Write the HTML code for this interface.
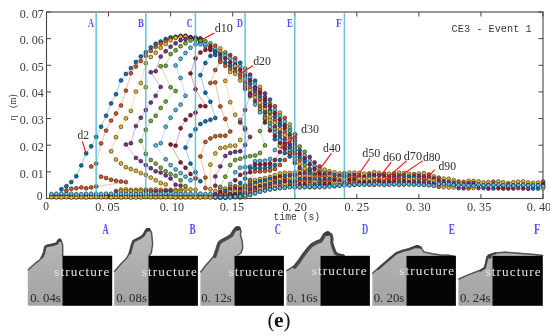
<!DOCTYPE html>
<html><head><meta charset="utf-8"><title>CE3 - Event 1</title>
<style>html,body{margin:0;padding:0;background:#fff;}body{width:550px;height:335px;overflow:hidden;}svg{display:block;}</style>
</head><body>
<svg width="550" height="335" viewBox="0 0 550 335">
<rect width="550" height="335" fill="#fff"/>
<rect x="46.5" y="12.0" width="496.5" height="186.5" fill="none" stroke="#444" stroke-width="1.1"/>
<path d="M46.50 198.5v-4.5M46.50 12.0v4.5M108.56 198.5v-4.5M108.56 12.0v4.5M170.62 198.5v-4.5M170.62 12.0v4.5M232.69 198.5v-4.5M232.69 12.0v4.5M294.75 198.5v-4.5M294.75 12.0v4.5M356.81 198.5v-4.5M356.81 12.0v4.5M418.88 198.5v-4.5M418.88 12.0v4.5M480.94 198.5v-4.5M480.94 12.0v4.5M543.00 198.5v-4.5M543.00 12.0v4.5M46.5 198.50h4.5M543.0 198.50h-4.5M46.5 171.86h4.5M543.0 171.86h-4.5M46.5 145.21h4.5M543.0 145.21h-4.5M46.5 118.57h4.5M543.0 118.57h-4.5M46.5 91.93h4.5M543.0 91.93h-4.5M46.5 65.29h4.5M543.0 65.29h-4.5M46.5 38.64h4.5M543.0 38.64h-4.5M46.5 12.00h4.5M543.0 12.00h-4.5" stroke="#444" stroke-width="1" fill="none"/>
<polyline points="61.4,189.2 66.4,186.2 71.3,182.1 76.3,176.2 81.3,165.4 86.2,153.4 91.2,146.3 96.2,136.9 101.1,126.7 106.1,115.7 111.1,103.4 116.0,94.3 121.0,80.4 125.9,74.0 130.9,68.1 135.9,62.0 140.8,56.4 145.8,52.1 150.8,47.4 155.7,43.7 160.7,41.5 165.7,39.0 170.6,37.4 175.6,36.8 180.6,35.8 185.5,35.8 190.5,37.0 195.5,37.4 200.4,38.7" fill="none" stroke="#0072BD" stroke-width="0.7" stroke-opacity="0.55"/>
<polyline points="66.4,190.5 71.3,188.7 76.3,188.3 81.3,187.4 86.2,188.3 91.2,187.4 96.2,186.5 125.9,182.1 121.0,181.5 116.0,180.8 111.1,179.7 106.1,178.0 101.1,176.7 91.2,166.5 96.2,163.6 101.1,143.4 106.1,130.6 111.1,120.6 116.0,113.5 121.0,105.5 125.9,90.6 130.9,73.3 135.9,66.5 140.8,61.0 145.8,55.7 150.8,50.9 155.7,46.8 160.7,43.6 165.7,41.0 170.6,38.6 175.6,37.2 180.6,36.4 185.5,36.4 190.5,37.6 195.5,38.4 200.4,40.0" fill="none" stroke="#D95319" stroke-width="0.7" stroke-opacity="0.55"/>
<polyline points="165.7,184.4 160.7,183.0 155.7,180.3 150.8,177.6 145.8,174.9 140.8,173.1 135.9,170.8 130.9,169.0 125.9,167.2 121.0,163.5 116.0,159.5 111.1,151.2 116.0,137.2 121.0,126.7 125.9,118.4 130.9,110.9 135.9,91.6 145.8,87.2 140.8,83.1 145.8,63.3 150.8,57.0 155.7,52.7 160.7,47.8 165.7,44.0 170.6,40.3 175.6,37.8 180.6,36.8 185.5,36.6 190.5,38.2 195.5,39.0 200.4,41.0" fill="none" stroke="#EDB120" stroke-width="0.7" stroke-opacity="0.55"/>
<polyline points="180.6,185.6 175.6,184.8 170.6,178.5 165.7,175.4 160.7,172.6 155.7,171.3 150.8,168.3 145.8,165.1 140.8,161.1 135.9,157.9 125.9,144.5 130.9,143.2 135.9,126.1 140.8,117.8 145.8,110.0 150.8,102.5 155.7,95.8 160.7,86.9 150.8,72.2 155.7,71.2 160.7,56.6 165.7,51.2 170.6,46.8 175.6,43.3 180.6,40.3 185.5,39.3 190.5,37.6 195.5,39.0 200.4,41.5" fill="none" stroke="#7E2F8E" stroke-width="0.7" stroke-opacity="0.55"/>
<polyline points="185.5,186.2 180.6,180.3 175.6,175.8 170.6,174.0 165.7,171.3 160.7,167.7 155.7,163.6 150.8,160.0 145.8,154.0 140.8,140.9 145.8,129.7 150.8,120.9 155.7,115.7 160.7,107.9 165.7,101.5 175.6,91.0 170.6,87.3 160.7,66.3 165.7,65.8 170.6,54.0 175.6,50.3 180.6,46.2 185.5,43.3 190.5,40.5 195.5,39.9 200.4,40.8" fill="none" stroke="#77AC30" stroke-width="0.7" stroke-opacity="0.55"/>
<polyline points="190.5,180.3 185.5,176.7 180.6,173.1 175.6,169.5 170.6,165.1 165.7,159.3 155.7,145.4 160.7,143.2 165.7,126.7 170.6,117.8 175.6,110.0 180.6,104.6 185.5,95.8 180.6,78.0 175.6,65.5 180.6,58.7 185.5,53.0 190.5,47.8 195.5,44.3 200.4,44.3 205.4,44.3" fill="none" stroke="#4DBEEE" stroke-width="0.7" stroke-opacity="0.55"/>
<polyline points="195.5,178.5 190.5,174.0 185.5,167.7 180.6,162.4 170.6,144.5 175.6,145.7 180.6,128.2 185.5,119.8 190.5,115.2 195.5,112.6 200.4,106.0 205.4,106.2 195.5,89.3 190.5,73.4 195.5,58.4 200.4,52.5 205.4,49.9 210.4,48.5" fill="none" stroke="#A2142F" stroke-width="0.7" stroke-opacity="0.55"/>
<polyline points="200.4,181.2 195.5,172.2 190.5,163.6 185.5,147.6 190.5,135.5 195.5,129.3 200.4,124.0 205.4,121.3 210.4,119.8 215.3,118.0 210.4,101.8 205.4,92.8 200.4,75.1 205.4,63.0 210.4,55.9 215.3,52.0" fill="none" stroke="#0072BD" stroke-width="0.7" stroke-opacity="0.55"/>
<polyline points="205.4,188.0 205.4,177.6 200.4,156.5 205.4,141.9 210.4,138.4 215.3,136.3 220.3,135.7 225.3,135.7 230.2,131.5 225.3,119.0 220.3,106.4 215.3,82.4 210.4,83.0 215.3,70.0 220.3,62.0" fill="none" stroke="#D95319" stroke-width="0.7" stroke-opacity="0.55"/>
<polyline points="210.4,189.2 210.4,164.7 215.3,153.4 220.3,148.0 225.3,147.5 230.2,145.7 235.2,145.7 240.2,140.0 245.1,128.0 240.2,120.0 235.2,114.8 230.2,102.2 225.3,80.9 230.2,72.0 235.2,66.0" fill="none" stroke="#EDB120" stroke-width="0.7" stroke-opacity="0.55"/>
<polyline points="215.3,185.8 215.3,176.4 220.3,166.4 225.3,155.9 230.2,153.0 235.2,151.8 240.2,151.3 245.1,145.0 250.1,137.0 245.1,129.4 240.2,122.5 245.1,110.0 250.1,95.0 255.1,88.0" fill="none" stroke="#7E2F8E" stroke-width="0.7" stroke-opacity="0.55"/>
<polyline points="220.3,186.9 225.3,176.7 230.2,165.1 235.2,160.0 240.2,158.8 245.1,157.0 250.1,156.1 255.1,155.5 260.0,153.0 265.0,145.4 260.0,131.1 265.0,118.0 270.0,112.0" fill="none" stroke="#77AC30" stroke-width="0.7" stroke-opacity="0.55"/>
<polyline points="230.2,183.9 235.2,172.2 240.2,167.7 245.1,167.2 250.1,166.5 255.1,161.2 260.0,161.0 265.0,160.8 270.0,159.0 274.9,150.0 279.9,140.0" fill="none" stroke="#4DBEEE" stroke-width="0.7" stroke-opacity="0.55"/>
<polyline points="235.2,180.3 240.2,174.9 245.1,173.1 250.1,172.2 255.1,164.5 260.0,164.5 265.0,164.5 270.0,163.5 274.9,160.0 279.9,152.0 284.8,144.0" fill="none" stroke="#A2142F" stroke-width="0.7" stroke-opacity="0.55"/>
<polyline points="240.2,183.0 245.1,178.5 250.1,168.1 255.1,168.1 260.0,168.1 265.0,168.1 270.0,167.0 274.9,165.0 279.9,160.0 284.8,153.0 289.8,147.0" fill="none" stroke="#0072BD" stroke-width="0.7" stroke-opacity="0.55"/>
<polyline points="245.1,186.0 250.1,180.0 255.1,171.5 260.0,171.5 265.0,171.0 270.0,170.5 274.9,169.0 279.9,165.0 284.8,160.0 289.8,153.0 294.8,150.0" fill="none" stroke="#D95319" stroke-width="0.7" stroke-opacity="0.55"/>
<g stroke="#151515" stroke-width="0.55">
<circle cx="51.5" cy="195.5" r="1.95" fill="#A2142F"/>
<circle cx="51.5" cy="197.2" r="1.95" fill="#EDB120"/>
<circle cx="51.5" cy="194.0" r="1.95" fill="#4DBEEE"/>
<circle cx="56.4" cy="195.3" r="1.95" fill="#A2142F"/>
<circle cx="56.4" cy="197.4" r="1.95" fill="#EDB120"/>
<circle cx="56.4" cy="193.8" r="1.95" fill="#4DBEEE"/>
<circle cx="61.4" cy="195.3" r="1.95" fill="#A2142F"/>
<circle cx="61.4" cy="197.4" r="1.95" fill="#EDB120"/>
<circle cx="61.4" cy="193.6" r="1.95" fill="#4DBEEE"/>
<circle cx="66.4" cy="195.6" r="1.95" fill="#A2142F"/>
<circle cx="66.4" cy="197.1" r="1.95" fill="#EDB120"/>
<circle cx="66.4" cy="193.7" r="1.95" fill="#4DBEEE"/>
<circle cx="71.3" cy="195.6" r="1.95" fill="#A2142F"/>
<circle cx="71.3" cy="197.6" r="1.95" fill="#EDB120"/>
<circle cx="71.3" cy="193.7" r="1.95" fill="#4DBEEE"/>
<circle cx="76.3" cy="195.4" r="1.95" fill="#A2142F"/>
<circle cx="76.3" cy="197.5" r="1.95" fill="#EDB120"/>
<circle cx="76.3" cy="194.2" r="1.95" fill="#4DBEEE"/>
<circle cx="81.3" cy="195.6" r="1.95" fill="#A2142F"/>
<circle cx="81.3" cy="197.3" r="1.95" fill="#EDB120"/>
<circle cx="81.3" cy="194.2" r="1.95" fill="#4DBEEE"/>
<circle cx="86.2" cy="195.3" r="1.95" fill="#A2142F"/>
<circle cx="86.2" cy="197.6" r="1.95" fill="#EDB120"/>
<circle cx="86.2" cy="193.8" r="1.95" fill="#4DBEEE"/>
<circle cx="91.2" cy="195.4" r="1.95" fill="#A2142F"/>
<circle cx="91.2" cy="197.2" r="1.95" fill="#EDB120"/>
<circle cx="91.2" cy="193.8" r="1.95" fill="#4DBEEE"/>
<circle cx="96.2" cy="195.8" r="1.95" fill="#A2142F"/>
<circle cx="96.2" cy="197.2" r="1.95" fill="#EDB120"/>
<circle cx="96.2" cy="193.9" r="1.95" fill="#4DBEEE"/>
<circle cx="101.1" cy="195.7" r="1.95" fill="#A2142F"/>
<circle cx="101.1" cy="197.3" r="1.95" fill="#EDB120"/>
<circle cx="101.1" cy="193.9" r="1.95" fill="#4DBEEE"/>
<circle cx="106.1" cy="195.3" r="1.95" fill="#A2142F"/>
<circle cx="106.1" cy="197.1" r="1.95" fill="#EDB120"/>
<circle cx="106.1" cy="193.7" r="1.95" fill="#4DBEEE"/>
<circle cx="111.1" cy="195.7" r="1.95" fill="#A2142F"/>
<circle cx="111.1" cy="197.4" r="1.95" fill="#EDB120"/>
<circle cx="111.1" cy="193.8" r="1.95" fill="#4DBEEE"/>
<circle cx="116.0" cy="191.1" r="1.95" fill="#7E2F8E"/>
<circle cx="116.0" cy="195.4" r="1.95" fill="#A2142F"/>
<circle cx="116.0" cy="197.2" r="1.95" fill="#EDB120"/>
<circle cx="116.0" cy="194.1" r="1.95" fill="#4DBEEE"/>
<circle cx="121.0" cy="189.6" r="1.95" fill="#EDB120"/>
<circle cx="121.0" cy="191.2" r="1.95" fill="#EDB120"/>
<circle cx="121.0" cy="195.8" r="1.95" fill="#A2142F"/>
<circle cx="121.0" cy="197.5" r="1.95" fill="#EDB120"/>
<circle cx="121.0" cy="193.8" r="1.95" fill="#4DBEEE"/>
<circle cx="125.9" cy="189.4" r="1.95" fill="#EDB120"/>
<circle cx="125.9" cy="191.2" r="1.95" fill="#EDB120"/>
<circle cx="125.9" cy="195.8" r="1.95" fill="#A2142F"/>
<circle cx="125.9" cy="197.2" r="1.95" fill="#EDB120"/>
<circle cx="125.9" cy="193.9" r="1.95" fill="#4DBEEE"/>
<circle cx="130.9" cy="189.9" r="1.95" fill="#EDB120"/>
<circle cx="130.9" cy="190.9" r="1.95" fill="#EDB120"/>
<circle cx="130.9" cy="195.6" r="1.95" fill="#A2142F"/>
<circle cx="130.9" cy="197.6" r="1.95" fill="#EDB120"/>
<circle cx="130.9" cy="194.1" r="1.95" fill="#4DBEEE"/>
<circle cx="135.9" cy="189.7" r="1.95" fill="#EDB120"/>
<circle cx="135.9" cy="191.3" r="1.95" fill="#EDB120"/>
<circle cx="135.9" cy="195.6" r="1.95" fill="#A2142F"/>
<circle cx="135.9" cy="197.4" r="1.95" fill="#EDB120"/>
<circle cx="135.9" cy="194.1" r="1.95" fill="#4DBEEE"/>
<circle cx="140.8" cy="189.6" r="1.95" fill="#EDB120"/>
<circle cx="140.8" cy="191.3" r="1.95" fill="#EDB120"/>
<circle cx="140.8" cy="195.3" r="1.95" fill="#A2142F"/>
<circle cx="140.8" cy="197.5" r="1.95" fill="#EDB120"/>
<circle cx="140.8" cy="194.0" r="1.95" fill="#4DBEEE"/>
<circle cx="145.8" cy="189.5" r="1.95" fill="#EDB120"/>
<circle cx="145.8" cy="191.1" r="1.95" fill="#7E2F8E"/>
<circle cx="145.8" cy="195.7" r="1.95" fill="#A2142F"/>
<circle cx="145.8" cy="197.1" r="1.95" fill="#EDB120"/>
<circle cx="145.8" cy="193.9" r="1.95" fill="#4DBEEE"/>
<circle cx="150.8" cy="189.7" r="1.95" fill="#EDB120"/>
<circle cx="150.8" cy="191.2" r="1.95" fill="#D95319"/>
<circle cx="150.8" cy="195.4" r="1.95" fill="#A2142F"/>
<circle cx="150.8" cy="197.3" r="1.95" fill="#EDB120"/>
<circle cx="150.8" cy="194.0" r="1.95" fill="#4DBEEE"/>
<circle cx="155.7" cy="189.5" r="1.95" fill="#EDB120"/>
<circle cx="155.7" cy="191.4" r="1.95" fill="#7E2F8E"/>
<circle cx="155.7" cy="195.3" r="1.95" fill="#A2142F"/>
<circle cx="155.7" cy="197.4" r="1.95" fill="#EDB120"/>
<circle cx="155.7" cy="193.9" r="1.95" fill="#4DBEEE"/>
<circle cx="160.7" cy="189.8" r="1.95" fill="#EDB120"/>
<circle cx="160.7" cy="191.4" r="1.95" fill="#D95319"/>
<circle cx="160.7" cy="195.5" r="1.95" fill="#A2142F"/>
<circle cx="160.7" cy="197.3" r="1.95" fill="#EDB120"/>
<circle cx="160.7" cy="193.8" r="1.95" fill="#4DBEEE"/>
<circle cx="165.7" cy="189.9" r="1.95" fill="#EDB120"/>
<circle cx="165.7" cy="191.0" r="1.95" fill="#7E2F8E"/>
<circle cx="165.7" cy="195.4" r="1.95" fill="#A2142F"/>
<circle cx="165.7" cy="197.2" r="1.95" fill="#EDB120"/>
<circle cx="165.7" cy="193.7" r="1.95" fill="#4DBEEE"/>
<circle cx="170.6" cy="189.8" r="1.95" fill="#EDB120"/>
<circle cx="170.6" cy="191.0" r="1.95" fill="#7E2F8E"/>
<circle cx="170.6" cy="195.5" r="1.95" fill="#A2142F"/>
<circle cx="170.6" cy="197.2" r="1.95" fill="#EDB120"/>
<circle cx="170.6" cy="193.9" r="1.95" fill="#4DBEEE"/>
<circle cx="175.6" cy="189.9" r="1.95" fill="#EDB120"/>
<circle cx="175.6" cy="191.3" r="1.95" fill="#EDB120"/>
<circle cx="175.6" cy="195.6" r="1.95" fill="#A2142F"/>
<circle cx="175.6" cy="197.5" r="1.95" fill="#EDB120"/>
<circle cx="175.6" cy="194.0" r="1.95" fill="#4DBEEE"/>
<circle cx="180.6" cy="189.6" r="1.95" fill="#EDB120"/>
<circle cx="180.6" cy="191.4" r="1.95" fill="#EDB120"/>
<circle cx="180.6" cy="195.9" r="1.95" fill="#A2142F"/>
<circle cx="180.6" cy="197.5" r="1.95" fill="#EDB120"/>
<circle cx="180.6" cy="193.9" r="1.95" fill="#4DBEEE"/>
<circle cx="185.5" cy="189.5" r="1.95" fill="#EDB120"/>
<circle cx="185.5" cy="195.5" r="1.95" fill="#A2142F"/>
<circle cx="185.5" cy="197.4" r="1.95" fill="#EDB120"/>
<circle cx="185.5" cy="193.8" r="1.95" fill="#4DBEEE"/>
<circle cx="190.5" cy="189.4" r="1.95" fill="#EDB120"/>
<circle cx="190.5" cy="195.9" r="1.95" fill="#A2142F"/>
<circle cx="190.5" cy="197.4" r="1.95" fill="#EDB120"/>
<circle cx="190.5" cy="193.7" r="1.95" fill="#4DBEEE"/>
<circle cx="195.5" cy="189.7" r="1.95" fill="#EDB120"/>
<circle cx="195.5" cy="195.4" r="1.95" fill="#A2142F"/>
<circle cx="195.5" cy="197.4" r="1.95" fill="#EDB120"/>
<circle cx="195.5" cy="193.9" r="1.95" fill="#4DBEEE"/>
<circle cx="200.4" cy="195.9" r="1.95" fill="#A2142F"/>
<circle cx="200.4" cy="197.5" r="1.95" fill="#EDB120"/>
<circle cx="200.4" cy="193.6" r="1.95" fill="#4DBEEE"/>
<circle cx="205.4" cy="195.4" r="1.95" fill="#A2142F"/>
<circle cx="205.4" cy="197.3" r="1.95" fill="#EDB120"/>
<circle cx="205.4" cy="194.0" r="1.95" fill="#4DBEEE"/>
<circle cx="210.4" cy="195.9" r="1.95" fill="#A2142F"/>
<circle cx="210.4" cy="197.5" r="1.95" fill="#EDB120"/>
<circle cx="210.4" cy="193.9" r="1.95" fill="#4DBEEE"/>
<circle cx="215.3" cy="195.4" r="1.95" fill="#A2142F"/>
<circle cx="215.3" cy="197.4" r="1.95" fill="#EDB120"/>
<circle cx="215.3" cy="194.2" r="1.95" fill="#4DBEEE"/>
<circle cx="220.3" cy="195.6" r="1.95" fill="#A2142F"/>
<circle cx="220.3" cy="197.3" r="1.95" fill="#EDB120"/>
<circle cx="220.3" cy="193.7" r="1.95" fill="#4DBEEE"/>
<circle cx="225.3" cy="195.7" r="1.95" fill="#A2142F"/>
<circle cx="225.3" cy="197.5" r="1.95" fill="#EDB120"/>
<circle cx="225.3" cy="193.9" r="1.95" fill="#4DBEEE"/>
<circle cx="230.2" cy="195.7" r="1.95" fill="#A2142F"/>
<circle cx="230.2" cy="197.4" r="1.95" fill="#EDB120"/>
<circle cx="230.2" cy="193.7" r="1.95" fill="#4DBEEE"/>
<circle cx="235.2" cy="195.9" r="1.95" fill="#A2142F"/>
<circle cx="235.2" cy="197.3" r="1.95" fill="#EDB120"/>
<circle cx="235.2" cy="194.0" r="1.95" fill="#4DBEEE"/>
<circle cx="240.2" cy="195.8" r="1.95" fill="#A2142F"/>
<circle cx="240.2" cy="197.6" r="1.95" fill="#EDB120"/>
<circle cx="240.2" cy="193.8" r="1.95" fill="#4DBEEE"/>
<circle cx="245.1" cy="195.7" r="1.95" fill="#A2142F"/>
<circle cx="245.1" cy="197.2" r="1.95" fill="#EDB120"/>
<circle cx="245.1" cy="194.1" r="1.95" fill="#4DBEEE"/>
<circle cx="215.3" cy="191.1" r="1.95" fill="#EDB120"/>
<circle cx="215.3" cy="194.4" r="1.95" fill="#7E2F8E"/>
<circle cx="215.3" cy="197.3" r="1.95" fill="#EDB120"/>
<circle cx="215.3" cy="197.3" r="1.95" fill="#4DBEEE"/>
<circle cx="220.3" cy="189.3" r="1.95" fill="#EDB120"/>
<circle cx="220.3" cy="192.0" r="1.95" fill="#A2142F"/>
<circle cx="220.3" cy="194.7" r="1.95" fill="#D95319"/>
<circle cx="220.3" cy="197.7" r="1.95" fill="#0072BD"/>
<circle cx="220.3" cy="197.4" r="1.95" fill="#4DBEEE"/>
<circle cx="225.3" cy="188.5" r="1.95" fill="#EDB120"/>
<circle cx="225.3" cy="190.9" r="1.95" fill="#0072BD"/>
<circle cx="225.3" cy="194.0" r="1.95" fill="#D95319"/>
<circle cx="225.3" cy="197.6" r="1.95" fill="#7E2F8E"/>
<circle cx="225.3" cy="197.3" r="1.95" fill="#4DBEEE"/>
<circle cx="230.2" cy="186.5" r="1.95" fill="#EDB120"/>
<circle cx="230.2" cy="189.0" r="1.95" fill="#7E2F8E"/>
<circle cx="230.2" cy="191.6" r="1.95" fill="#EDB120"/>
<circle cx="230.2" cy="194.3" r="1.95" fill="#7E2F8E"/>
<circle cx="230.2" cy="196.8" r="1.95" fill="#EDB120"/>
<circle cx="230.2" cy="197.2" r="1.95" fill="#4DBEEE"/>
<circle cx="235.2" cy="186.2" r="1.95" fill="#D95319"/>
<circle cx="235.2" cy="189.0" r="1.95" fill="#7E2F8E"/>
<circle cx="235.2" cy="191.5" r="1.95" fill="#EDB120"/>
<circle cx="235.2" cy="194.1" r="1.95" fill="#A2142F"/>
<circle cx="235.2" cy="196.5" r="1.95" fill="#D95319"/>
<circle cx="235.2" cy="196.8" r="1.95" fill="#4DBEEE"/>
<circle cx="240.2" cy="186.7" r="1.95" fill="#EDB120"/>
<circle cx="240.2" cy="189.0" r="1.95" fill="#A2142F"/>
<circle cx="240.2" cy="191.5" r="1.95" fill="#D95319"/>
<circle cx="240.2" cy="194.2" r="1.95" fill="#0072BD"/>
<circle cx="240.2" cy="196.4" r="1.95" fill="#D95319"/>
<circle cx="240.2" cy="196.4" r="1.95" fill="#4DBEEE"/>
<circle cx="245.1" cy="185.4" r="1.95" fill="#EDB120"/>
<circle cx="245.1" cy="188.3" r="1.95" fill="#7E2F8E"/>
<circle cx="245.1" cy="190.5" r="1.95" fill="#EDB120"/>
<circle cx="245.1" cy="192.9" r="1.95" fill="#A2142F"/>
<circle cx="245.1" cy="196.0" r="1.95" fill="#EDB120"/>
<circle cx="245.1" cy="195.8" r="1.95" fill="#4DBEEE"/>
<circle cx="250.1" cy="182.1" r="1.95" fill="#EDB120"/>
<circle cx="250.1" cy="184.7" r="1.95" fill="#0072BD"/>
<circle cx="250.1" cy="186.9" r="1.95" fill="#D95319"/>
<circle cx="250.1" cy="189.6" r="1.95" fill="#7E2F8E"/>
<circle cx="250.1" cy="192.2" r="1.95" fill="#D95319"/>
<circle cx="250.1" cy="194.9" r="1.95" fill="#A2142F"/>
<circle cx="250.1" cy="194.9" r="1.95" fill="#4DBEEE"/>
<circle cx="255.1" cy="180.1" r="1.95" fill="#EDB120"/>
<circle cx="255.1" cy="182.8" r="1.95" fill="#0072BD"/>
<circle cx="255.1" cy="185.2" r="1.95" fill="#EDB120"/>
<circle cx="255.1" cy="187.9" r="1.95" fill="#7E2F8E"/>
<circle cx="255.1" cy="190.3" r="1.95" fill="#D95319"/>
<circle cx="255.1" cy="193.2" r="1.95" fill="#0072BD"/>
<circle cx="255.1" cy="193.3" r="1.95" fill="#4DBEEE"/>
<circle cx="260.0" cy="179.0" r="1.95" fill="#EDB120"/>
<circle cx="260.0" cy="181.4" r="1.95" fill="#0072BD"/>
<circle cx="260.0" cy="183.7" r="1.95" fill="#EDB120"/>
<circle cx="260.0" cy="186.4" r="1.95" fill="#A2142F"/>
<circle cx="260.0" cy="188.8" r="1.95" fill="#EDB120"/>
<circle cx="260.0" cy="191.6" r="1.95" fill="#0072BD"/>
<circle cx="260.0" cy="191.6" r="1.95" fill="#4DBEEE"/>
<circle cx="265.0" cy="178.1" r="1.95" fill="#EDB120"/>
<circle cx="265.0" cy="180.5" r="1.95" fill="#0072BD"/>
<circle cx="265.0" cy="182.9" r="1.95" fill="#EDB120"/>
<circle cx="265.0" cy="185.5" r="1.95" fill="#0072BD"/>
<circle cx="265.0" cy="187.7" r="1.95" fill="#D95319"/>
<circle cx="265.0" cy="190.4" r="1.95" fill="#A2142F"/>
<circle cx="265.0" cy="190.4" r="1.95" fill="#4DBEEE"/>
<circle cx="270.0" cy="176.8" r="1.95" fill="#EDB120"/>
<circle cx="270.0" cy="179.0" r="1.95" fill="#0072BD"/>
<circle cx="270.0" cy="181.4" r="1.95" fill="#EDB120"/>
<circle cx="270.0" cy="184.0" r="1.95" fill="#0072BD"/>
<circle cx="270.0" cy="186.5" r="1.95" fill="#D95319"/>
<circle cx="270.0" cy="189.2" r="1.95" fill="#77AC30"/>
<circle cx="270.0" cy="189.5" r="1.95" fill="#4DBEEE"/>
<circle cx="274.9" cy="175.3" r="1.95" fill="#EDB120"/>
<circle cx="274.9" cy="178.0" r="1.95" fill="#A2142F"/>
<circle cx="274.9" cy="180.4" r="1.95" fill="#D95319"/>
<circle cx="274.9" cy="183.0" r="1.95" fill="#7E2F8E"/>
<circle cx="274.9" cy="185.8" r="1.95" fill="#EDB120"/>
<circle cx="274.9" cy="188.6" r="1.95" fill="#77AC30"/>
<circle cx="274.9" cy="188.6" r="1.95" fill="#4DBEEE"/>
<circle cx="279.9" cy="173.5" r="1.95" fill="#EDB120"/>
<circle cx="279.9" cy="176.6" r="1.95" fill="#A2142F"/>
<circle cx="279.9" cy="179.1" r="1.95" fill="#EDB120"/>
<circle cx="279.9" cy="182.1" r="1.95" fill="#0072BD"/>
<circle cx="279.9" cy="185.0" r="1.95" fill="#D95319"/>
<circle cx="279.9" cy="188.0" r="1.95" fill="#A2142F"/>
<circle cx="279.9" cy="188.0" r="1.95" fill="#4DBEEE"/>
<circle cx="284.8" cy="172.8" r="1.95" fill="#EDB120"/>
<circle cx="284.8" cy="176.0" r="1.95" fill="#0072BD"/>
<circle cx="284.8" cy="179.1" r="1.95" fill="#D95319"/>
<circle cx="284.8" cy="181.4" r="1.95" fill="#A2142F"/>
<circle cx="284.8" cy="184.8" r="1.95" fill="#EDB120"/>
<circle cx="284.8" cy="187.6" r="1.95" fill="#0072BD"/>
<circle cx="284.8" cy="187.7" r="1.95" fill="#4DBEEE"/>
<circle cx="289.8" cy="172.9" r="1.95" fill="#EDB120"/>
<circle cx="289.8" cy="175.4" r="1.95" fill="#7E2F8E"/>
<circle cx="289.8" cy="178.8" r="1.95" fill="#EDB120"/>
<circle cx="289.8" cy="181.6" r="1.95" fill="#0072BD"/>
<circle cx="289.8" cy="184.3" r="1.95" fill="#D95319"/>
<circle cx="289.8" cy="186.8" r="1.95" fill="#A2142F"/>
<circle cx="289.8" cy="187.2" r="1.95" fill="#4DBEEE"/>
<circle cx="294.8" cy="172.4" r="1.95" fill="#EDB120"/>
<circle cx="294.8" cy="175.2" r="1.95" fill="#7E2F8E"/>
<circle cx="294.8" cy="178.2" r="1.95" fill="#EDB120"/>
<circle cx="294.8" cy="181.4" r="1.95" fill="#A2142F"/>
<circle cx="294.8" cy="183.9" r="1.95" fill="#D95319"/>
<circle cx="294.8" cy="187.0" r="1.95" fill="#0072BD"/>
<circle cx="294.8" cy="187.2" r="1.95" fill="#4DBEEE"/>
<circle cx="299.7" cy="170.5" r="1.95" fill="#EDB120"/>
<circle cx="299.7" cy="173.8" r="1.95" fill="#A2142F"/>
<circle cx="299.7" cy="176.1" r="1.95" fill="#EDB120"/>
<circle cx="299.7" cy="179.1" r="1.95" fill="#0072BD"/>
<circle cx="299.7" cy="181.3" r="1.95" fill="#D95319"/>
<circle cx="299.7" cy="184.6" r="1.95" fill="#A2142F"/>
<circle cx="299.7" cy="187.3" r="1.95" fill="#EDB120"/>
<circle cx="299.7" cy="187.1" r="1.95" fill="#4DBEEE"/>
<circle cx="304.7" cy="170.4" r="1.95" fill="#EDB120"/>
<circle cx="304.7" cy="173.2" r="1.95" fill="#7E2F8E"/>
<circle cx="304.7" cy="176.2" r="1.95" fill="#EDB120"/>
<circle cx="304.7" cy="178.8" r="1.95" fill="#7E2F8E"/>
<circle cx="304.7" cy="181.2" r="1.95" fill="#D95319"/>
<circle cx="304.7" cy="184.5" r="1.95" fill="#A2142F"/>
<circle cx="304.7" cy="187.0" r="1.95" fill="#D95319"/>
<circle cx="304.7" cy="186.9" r="1.95" fill="#4DBEEE"/>
<circle cx="309.7" cy="171.1" r="1.95" fill="#D95319"/>
<circle cx="309.7" cy="173.6" r="1.95" fill="#0072BD"/>
<circle cx="309.7" cy="176.5" r="1.95" fill="#EDB120"/>
<circle cx="309.7" cy="179.0" r="1.95" fill="#7E2F8E"/>
<circle cx="309.7" cy="181.7" r="1.95" fill="#D95319"/>
<circle cx="309.7" cy="184.5" r="1.95" fill="#77AC30"/>
<circle cx="309.7" cy="187.2" r="1.95" fill="#D95319"/>
<circle cx="309.7" cy="186.7" r="1.95" fill="#4DBEEE"/>
<circle cx="314.6" cy="172.3" r="1.95" fill="#EDB120"/>
<circle cx="314.6" cy="174.7" r="1.95" fill="#0072BD"/>
<circle cx="314.6" cy="176.9" r="1.95" fill="#EDB120"/>
<circle cx="314.6" cy="179.4" r="1.95" fill="#0072BD"/>
<circle cx="314.6" cy="181.8" r="1.95" fill="#EDB120"/>
<circle cx="314.6" cy="184.5" r="1.95" fill="#0072BD"/>
<circle cx="314.6" cy="187.2" r="1.95" fill="#EDB120"/>
<circle cx="314.6" cy="187.0" r="1.95" fill="#4DBEEE"/>
<circle cx="319.6" cy="171.8" r="1.95" fill="#D95319"/>
<circle cx="319.6" cy="174.3" r="1.95" fill="#A2142F"/>
<circle cx="319.6" cy="176.8" r="1.95" fill="#D95319"/>
<circle cx="319.6" cy="179.8" r="1.95" fill="#0072BD"/>
<circle cx="319.6" cy="182.0" r="1.95" fill="#D95319"/>
<circle cx="319.6" cy="184.2" r="1.95" fill="#0072BD"/>
<circle cx="319.6" cy="187.0" r="1.95" fill="#EDB120"/>
<circle cx="319.6" cy="187.1" r="1.95" fill="#4DBEEE"/>
<circle cx="324.6" cy="171.6" r="1.95" fill="#EDB120"/>
<circle cx="324.6" cy="174.3" r="1.95" fill="#7E2F8E"/>
<circle cx="324.6" cy="176.4" r="1.95" fill="#D95319"/>
<circle cx="324.6" cy="179.4" r="1.95" fill="#7E2F8E"/>
<circle cx="324.6" cy="181.6" r="1.95" fill="#D95319"/>
<circle cx="324.6" cy="184.3" r="1.95" fill="#A2142F"/>
<circle cx="324.6" cy="186.9" r="1.95" fill="#EDB120"/>
<circle cx="324.6" cy="187.0" r="1.95" fill="#4DBEEE"/>
<circle cx="329.5" cy="171.3" r="1.95" fill="#EDB120"/>
<circle cx="329.5" cy="173.7" r="1.95" fill="#7E2F8E"/>
<circle cx="329.5" cy="176.4" r="1.95" fill="#EDB120"/>
<circle cx="329.5" cy="179.0" r="1.95" fill="#0072BD"/>
<circle cx="329.5" cy="181.3" r="1.95" fill="#D95319"/>
<circle cx="329.5" cy="184.1" r="1.95" fill="#A2142F"/>
<circle cx="329.5" cy="186.1" r="1.95" fill="#EDB120"/>
<circle cx="329.5" cy="186.5" r="1.95" fill="#4DBEEE"/>
<circle cx="334.5" cy="172.4" r="1.95" fill="#EDB120"/>
<circle cx="334.5" cy="175.0" r="1.95" fill="#0072BD"/>
<circle cx="334.5" cy="178.0" r="1.95" fill="#D95319"/>
<circle cx="334.5" cy="180.3" r="1.95" fill="#A2142F"/>
<circle cx="334.5" cy="183.2" r="1.95" fill="#EDB120"/>
<circle cx="334.5" cy="186.2" r="1.95" fill="#0072BD"/>
<circle cx="334.5" cy="185.7" r="1.95" fill="#4DBEEE"/>
<circle cx="339.5" cy="173.4" r="1.95" fill="#EDB120"/>
<circle cx="339.5" cy="175.7" r="1.95" fill="#7E2F8E"/>
<circle cx="339.5" cy="178.1" r="1.95" fill="#EDB120"/>
<circle cx="339.5" cy="180.7" r="1.95" fill="#7E2F8E"/>
<circle cx="339.5" cy="183.1" r="1.95" fill="#EDB120"/>
<circle cx="339.5" cy="185.4" r="1.95" fill="#0072BD"/>
<circle cx="339.5" cy="185.8" r="1.95" fill="#4DBEEE"/>
<circle cx="344.4" cy="173.2" r="1.95" fill="#D95319"/>
<circle cx="344.4" cy="176.2" r="1.95" fill="#0072BD"/>
<circle cx="344.4" cy="179.5" r="1.95" fill="#EDB120"/>
<circle cx="344.4" cy="182.6" r="1.95" fill="#7E2F8E"/>
<circle cx="344.4" cy="185.1" r="1.95" fill="#D95319"/>
<circle cx="344.4" cy="185.2" r="1.95" fill="#4DBEEE"/>
<circle cx="349.4" cy="172.6" r="1.95" fill="#EDB120"/>
<circle cx="349.4" cy="175.3" r="1.95" fill="#0072BD"/>
<circle cx="349.4" cy="177.7" r="1.95" fill="#D95319"/>
<circle cx="349.4" cy="180.3" r="1.95" fill="#A2142F"/>
<circle cx="349.4" cy="182.9" r="1.95" fill="#D95319"/>
<circle cx="349.4" cy="184.9" r="1.95" fill="#77AC30"/>
<circle cx="349.4" cy="185.4" r="1.95" fill="#4DBEEE"/>
<circle cx="354.4" cy="172.6" r="1.95" fill="#EDB120"/>
<circle cx="354.4" cy="175.0" r="1.95" fill="#7E2F8E"/>
<circle cx="354.4" cy="177.6" r="1.95" fill="#D95319"/>
<circle cx="354.4" cy="179.8" r="1.95" fill="#A2142F"/>
<circle cx="354.4" cy="182.2" r="1.95" fill="#D95319"/>
<circle cx="354.4" cy="184.9" r="1.95" fill="#77AC30"/>
<circle cx="354.4" cy="184.7" r="1.95" fill="#4DBEEE"/>
<circle cx="359.3" cy="172.9" r="1.95" fill="#EDB120"/>
<circle cx="359.3" cy="176.0" r="1.95" fill="#7E2F8E"/>
<circle cx="359.3" cy="178.8" r="1.95" fill="#EDB120"/>
<circle cx="359.3" cy="182.1" r="1.95" fill="#A2142F"/>
<circle cx="359.3" cy="184.6" r="1.95" fill="#D95319"/>
<circle cx="359.3" cy="184.5" r="1.95" fill="#4DBEEE"/>
<circle cx="364.3" cy="173.7" r="1.95" fill="#EDB120"/>
<circle cx="364.3" cy="176.7" r="1.95" fill="#A2142F"/>
<circle cx="364.3" cy="179.0" r="1.95" fill="#EDB120"/>
<circle cx="364.3" cy="181.9" r="1.95" fill="#A2142F"/>
<circle cx="364.3" cy="184.4" r="1.95" fill="#D95319"/>
<circle cx="364.3" cy="184.6" r="1.95" fill="#4DBEEE"/>
<circle cx="369.3" cy="173.4" r="1.95" fill="#D95319"/>
<circle cx="369.3" cy="176.0" r="1.95" fill="#0072BD"/>
<circle cx="369.3" cy="178.8" r="1.95" fill="#EDB120"/>
<circle cx="369.3" cy="181.9" r="1.95" fill="#A2142F"/>
<circle cx="369.3" cy="184.6" r="1.95" fill="#D95319"/>
<circle cx="369.3" cy="184.4" r="1.95" fill="#4DBEEE"/>
<circle cx="374.2" cy="172.3" r="1.95" fill="#EDB120"/>
<circle cx="374.2" cy="175.3" r="1.95" fill="#A2142F"/>
<circle cx="374.2" cy="178.5" r="1.95" fill="#EDB120"/>
<circle cx="374.2" cy="181.6" r="1.95" fill="#0072BD"/>
<circle cx="374.2" cy="184.7" r="1.95" fill="#D95319"/>
<circle cx="374.2" cy="184.3" r="1.95" fill="#4DBEEE"/>
<circle cx="379.2" cy="172.9" r="1.95" fill="#EDB120"/>
<circle cx="379.2" cy="175.3" r="1.95" fill="#7E2F8E"/>
<circle cx="379.2" cy="178.8" r="1.95" fill="#EDB120"/>
<circle cx="379.2" cy="181.3" r="1.95" fill="#A2142F"/>
<circle cx="379.2" cy="184.4" r="1.95" fill="#EDB120"/>
<circle cx="379.2" cy="184.3" r="1.95" fill="#4DBEEE"/>
<circle cx="384.2" cy="173.8" r="1.95" fill="#D95319"/>
<circle cx="384.2" cy="176.1" r="1.95" fill="#A2142F"/>
<circle cx="384.2" cy="178.9" r="1.95" fill="#EDB120"/>
<circle cx="384.2" cy="181.8" r="1.95" fill="#0072BD"/>
<circle cx="384.2" cy="184.7" r="1.95" fill="#EDB120"/>
<circle cx="384.2" cy="184.7" r="1.95" fill="#4DBEEE"/>
<circle cx="389.1" cy="173.7" r="1.95" fill="#EDB120"/>
<circle cx="389.1" cy="176.7" r="1.95" fill="#A2142F"/>
<circle cx="389.1" cy="179.1" r="1.95" fill="#D95319"/>
<circle cx="389.1" cy="181.8" r="1.95" fill="#A2142F"/>
<circle cx="389.1" cy="184.4" r="1.95" fill="#D95319"/>
<circle cx="389.1" cy="184.4" r="1.95" fill="#4DBEEE"/>
<circle cx="394.1" cy="173.5" r="1.95" fill="#D95319"/>
<circle cx="394.1" cy="176.3" r="1.95" fill="#7E2F8E"/>
<circle cx="394.1" cy="178.9" r="1.95" fill="#D95319"/>
<circle cx="394.1" cy="181.6" r="1.95" fill="#A2142F"/>
<circle cx="394.1" cy="184.3" r="1.95" fill="#EDB120"/>
<circle cx="394.1" cy="184.3" r="1.95" fill="#4DBEEE"/>
<circle cx="399.1" cy="172.7" r="1.95" fill="#EDB120"/>
<circle cx="399.1" cy="175.6" r="1.95" fill="#7E2F8E"/>
<circle cx="399.1" cy="178.7" r="1.95" fill="#D95319"/>
<circle cx="399.1" cy="181.7" r="1.95" fill="#0072BD"/>
<circle cx="399.1" cy="184.6" r="1.95" fill="#D95319"/>
<circle cx="399.1" cy="184.5" r="1.95" fill="#4DBEEE"/>
<circle cx="404.0" cy="172.9" r="1.95" fill="#EDB120"/>
<circle cx="404.0" cy="175.9" r="1.95" fill="#0072BD"/>
<circle cx="404.0" cy="179.0" r="1.95" fill="#D95319"/>
<circle cx="404.0" cy="181.8" r="1.95" fill="#A2142F"/>
<circle cx="404.0" cy="184.5" r="1.95" fill="#EDB120"/>
<circle cx="404.0" cy="184.2" r="1.95" fill="#4DBEEE"/>
<circle cx="409.0" cy="173.9" r="1.95" fill="#EDB120"/>
<circle cx="409.0" cy="176.6" r="1.95" fill="#0072BD"/>
<circle cx="409.0" cy="179.4" r="1.95" fill="#EDB120"/>
<circle cx="409.0" cy="182.1" r="1.95" fill="#A2142F"/>
<circle cx="409.0" cy="184.3" r="1.95" fill="#EDB120"/>
<circle cx="409.0" cy="184.3" r="1.95" fill="#4DBEEE"/>
<circle cx="414.0" cy="174.3" r="1.95" fill="#D95319"/>
<circle cx="414.0" cy="176.9" r="1.95" fill="#0072BD"/>
<circle cx="414.0" cy="179.0" r="1.95" fill="#EDB120"/>
<circle cx="414.0" cy="181.7" r="1.95" fill="#7E2F8E"/>
<circle cx="414.0" cy="184.3" r="1.95" fill="#EDB120"/>
<circle cx="414.0" cy="184.6" r="1.95" fill="#4DBEEE"/>
<circle cx="418.9" cy="173.6" r="1.95" fill="#EDB120"/>
<circle cx="418.9" cy="176.0" r="1.95" fill="#7E2F8E"/>
<circle cx="418.9" cy="178.8" r="1.95" fill="#D95319"/>
<circle cx="418.9" cy="182.0" r="1.95" fill="#0072BD"/>
<circle cx="418.9" cy="184.4" r="1.95" fill="#D95319"/>
<circle cx="418.9" cy="184.7" r="1.95" fill="#4DBEEE"/>
<circle cx="423.9" cy="173.2" r="1.95" fill="#EDB120"/>
<circle cx="423.9" cy="176.5" r="1.95" fill="#7E2F8E"/>
<circle cx="423.9" cy="178.9" r="1.95" fill="#D95319"/>
<circle cx="423.9" cy="182.2" r="1.95" fill="#7E2F8E"/>
<circle cx="423.9" cy="184.6" r="1.95" fill="#EDB120"/>
<circle cx="423.9" cy="185.0" r="1.95" fill="#4DBEEE"/>
<circle cx="428.9" cy="174.5" r="1.95" fill="#D95319"/>
<circle cx="428.9" cy="177.1" r="1.95" fill="#7E2F8E"/>
<circle cx="428.9" cy="179.8" r="1.95" fill="#EDB120"/>
<circle cx="428.9" cy="182.7" r="1.95" fill="#7E2F8E"/>
<circle cx="428.9" cy="185.0" r="1.95" fill="#EDB120"/>
<circle cx="428.9" cy="185.1" r="1.95" fill="#4DBEEE"/>
<circle cx="433.8" cy="176.4" r="1.95" fill="#EDB120"/>
<circle cx="433.8" cy="178.5" r="1.95" fill="#7E2F8E"/>
<circle cx="433.8" cy="180.8" r="1.95" fill="#EDB120"/>
<circle cx="433.8" cy="183.6" r="1.95" fill="#7E2F8E"/>
<circle cx="433.8" cy="185.5" r="1.95" fill="#D95319"/>
<circle cx="433.8" cy="185.8" r="1.95" fill="#4DBEEE"/>
<circle cx="438.8" cy="177.7" r="1.95" fill="#D95319"/>
<circle cx="438.8" cy="180.6" r="1.95" fill="#7E2F8E"/>
<circle cx="438.8" cy="183.7" r="1.95" fill="#0072BD"/>
<circle cx="438.8" cy="186.8" r="1.95" fill="#D95319"/>
<circle cx="438.8" cy="183.8" r="1.95" fill="#4DBEEE"/>
<circle cx="443.7" cy="178.6" r="1.95" fill="#EDB120"/>
<circle cx="443.7" cy="181.4" r="1.95" fill="#7E2F8E"/>
<circle cx="443.7" cy="184.3" r="1.95" fill="#A2142F"/>
<circle cx="443.7" cy="187.1" r="1.95" fill="#EDB120"/>
<circle cx="443.7" cy="184.1" r="1.95" fill="#4DBEEE"/>
<circle cx="448.7" cy="178.8" r="1.95" fill="#EDB120"/>
<circle cx="448.7" cy="181.9" r="1.95" fill="#7E2F8E"/>
<circle cx="448.7" cy="184.8" r="1.95" fill="#A2142F"/>
<circle cx="448.7" cy="187.4" r="1.95" fill="#EDB120"/>
<circle cx="448.7" cy="184.3" r="1.95" fill="#4DBEEE"/>
<circle cx="453.7" cy="180.1" r="1.95" fill="#EDB120"/>
<circle cx="453.7" cy="182.8" r="1.95" fill="#0072BD"/>
<circle cx="453.7" cy="185.2" r="1.95" fill="#0072BD"/>
<circle cx="453.7" cy="187.4" r="1.95" fill="#EDB120"/>
<circle cx="453.7" cy="185.0" r="1.95" fill="#4DBEEE"/>
<circle cx="458.6" cy="181.5" r="1.95" fill="#D95319"/>
<circle cx="458.6" cy="184.8" r="1.95" fill="#A2142F"/>
<circle cx="458.6" cy="188.1" r="1.95" fill="#7E2F8E"/>
<circle cx="458.6" cy="185.0" r="1.95" fill="#4DBEEE"/>
<circle cx="463.6" cy="182.0" r="1.95" fill="#D95319"/>
<circle cx="463.6" cy="184.6" r="1.95" fill="#0072BD"/>
<circle cx="463.6" cy="188.3" r="1.95" fill="#7E2F8E"/>
<circle cx="463.6" cy="185.0" r="1.95" fill="#4DBEEE"/>
<circle cx="468.6" cy="180.9" r="1.95" fill="#EDB120"/>
<circle cx="468.6" cy="183.3" r="1.95" fill="#7E2F8E"/>
<circle cx="468.6" cy="185.9" r="1.95" fill="#7E2F8E"/>
<circle cx="468.6" cy="188.3" r="1.95" fill="#D95319"/>
<circle cx="468.6" cy="185.5" r="1.95" fill="#4DBEEE"/>
<circle cx="473.5" cy="181.0" r="1.95" fill="#EDB120"/>
<circle cx="473.5" cy="183.1" r="1.95" fill="#7E2F8E"/>
<circle cx="473.5" cy="185.6" r="1.95" fill="#0072BD"/>
<circle cx="473.5" cy="187.9" r="1.95" fill="#EDB120"/>
<circle cx="473.5" cy="185.7" r="1.95" fill="#4DBEEE"/>
<circle cx="478.5" cy="181.5" r="1.95" fill="#EDB120"/>
<circle cx="478.5" cy="185.0" r="1.95" fill="#7E2F8E"/>
<circle cx="478.5" cy="188.1" r="1.95" fill="#7E2F8E"/>
<circle cx="478.5" cy="184.7" r="1.95" fill="#4DBEEE"/>
<circle cx="483.5" cy="182.5" r="1.95" fill="#EDB120"/>
<circle cx="483.5" cy="185.6" r="1.95" fill="#A2142F"/>
<circle cx="483.5" cy="188.1" r="1.95" fill="#0072BD"/>
<circle cx="483.5" cy="185.3" r="1.95" fill="#4DBEEE"/>
<circle cx="488.4" cy="182.1" r="1.95" fill="#EDB120"/>
<circle cx="488.4" cy="185.0" r="1.95" fill="#A2142F"/>
<circle cx="488.4" cy="188.6" r="1.95" fill="#A2142F"/>
<circle cx="488.4" cy="185.3" r="1.95" fill="#4DBEEE"/>
<circle cx="493.4" cy="181.7" r="1.95" fill="#D95319"/>
<circle cx="493.4" cy="184.8" r="1.95" fill="#0072BD"/>
<circle cx="493.4" cy="188.4" r="1.95" fill="#0072BD"/>
<circle cx="493.4" cy="184.9" r="1.95" fill="#4DBEEE"/>
<circle cx="498.4" cy="181.5" r="1.95" fill="#EDB120"/>
<circle cx="498.4" cy="185.1" r="1.95" fill="#7E2F8E"/>
<circle cx="498.4" cy="188.3" r="1.95" fill="#A2142F"/>
<circle cx="498.4" cy="184.8" r="1.95" fill="#4DBEEE"/>
<circle cx="503.3" cy="182.3" r="1.95" fill="#EDB120"/>
<circle cx="503.3" cy="185.7" r="1.95" fill="#A2142F"/>
<circle cx="503.3" cy="188.6" r="1.95" fill="#A2142F"/>
<circle cx="503.3" cy="185.3" r="1.95" fill="#4DBEEE"/>
<circle cx="508.3" cy="183.3" r="1.95" fill="#D95319"/>
<circle cx="508.3" cy="186.0" r="1.95" fill="#A2142F"/>
<circle cx="508.3" cy="188.5" r="1.95" fill="#A2142F"/>
<circle cx="508.3" cy="185.8" r="1.95" fill="#4DBEEE"/>
<circle cx="513.3" cy="182.3" r="1.95" fill="#EDB120"/>
<circle cx="513.3" cy="185.5" r="1.95" fill="#A2142F"/>
<circle cx="513.3" cy="188.4" r="1.95" fill="#A2142F"/>
<circle cx="513.3" cy="185.7" r="1.95" fill="#4DBEEE"/>
<circle cx="518.2" cy="181.7" r="1.95" fill="#EDB120"/>
<circle cx="518.2" cy="185.2" r="1.95" fill="#A2142F"/>
<circle cx="518.2" cy="188.1" r="1.95" fill="#7E2F8E"/>
<circle cx="518.2" cy="185.1" r="1.95" fill="#4DBEEE"/>
<circle cx="523.2" cy="181.5" r="1.95" fill="#EDB120"/>
<circle cx="523.2" cy="185.1" r="1.95" fill="#7E2F8E"/>
<circle cx="523.2" cy="188.5" r="1.95" fill="#A2142F"/>
<circle cx="523.2" cy="185.1" r="1.95" fill="#4DBEEE"/>
<circle cx="528.2" cy="182.5" r="1.95" fill="#EDB120"/>
<circle cx="528.2" cy="185.3" r="1.95" fill="#7E2F8E"/>
<circle cx="528.2" cy="188.7" r="1.95" fill="#7E2F8E"/>
<circle cx="528.2" cy="185.3" r="1.95" fill="#4DBEEE"/>
<circle cx="533.1" cy="183.0" r="1.95" fill="#EDB120"/>
<circle cx="533.1" cy="185.8" r="1.95" fill="#0072BD"/>
<circle cx="533.1" cy="188.6" r="1.95" fill="#0072BD"/>
<circle cx="533.1" cy="185.6" r="1.95" fill="#4DBEEE"/>
<circle cx="538.1" cy="182.7" r="1.95" fill="#EDB120"/>
<circle cx="538.1" cy="185.5" r="1.95" fill="#0072BD"/>
<circle cx="538.1" cy="188.6" r="1.95" fill="#0072BD"/>
<circle cx="538.1" cy="185.4" r="1.95" fill="#4DBEEE"/>
<circle cx="543.1" cy="181.6" r="1.95" fill="#D95319"/>
<circle cx="543.1" cy="184.0" r="1.95" fill="#A2142F"/>
<circle cx="543.1" cy="185.9" r="1.95" fill="#7E2F8E"/>
<circle cx="543.1" cy="188.1" r="1.95" fill="#EDB120"/>
<circle cx="543.1" cy="186.2" r="1.95" fill="#4DBEEE"/>
<circle cx="200.4" cy="38.5" r="1.95" fill="#77AC30"/>
<circle cx="200.4" cy="42.2" r="1.95" fill="#4DBEEE"/>
<circle cx="205.4" cy="41.3" r="1.95" fill="#77AC30"/>
<circle cx="205.4" cy="46.1" r="1.95" fill="#4DBEEE"/>
<circle cx="210.4" cy="43.4" r="1.95" fill="#77AC30"/>
<circle cx="210.4" cy="46.4" r="1.95" fill="#A2142F"/>
<circle cx="210.4" cy="50.1" r="1.95" fill="#A2142F"/>
<circle cx="215.3" cy="45.6" r="1.95" fill="#D95319"/>
<circle cx="215.3" cy="49.0" r="1.95" fill="#4DBEEE"/>
<circle cx="215.3" cy="51.7" r="1.95" fill="#A2142F"/>
<circle cx="215.3" cy="55.0" r="1.95" fill="#0072BD"/>
<circle cx="220.3" cy="48.4" r="1.95" fill="#EDB120"/>
<circle cx="220.3" cy="51.7" r="1.95" fill="#EDB120"/>
<circle cx="220.3" cy="54.1" r="1.95" fill="#A2142F"/>
<circle cx="220.3" cy="57.0" r="1.95" fill="#0072BD"/>
<circle cx="220.3" cy="60.2" r="1.95" fill="#D95319"/>
<circle cx="225.3" cy="52.4" r="1.95" fill="#77AC30"/>
<circle cx="225.3" cy="55.6" r="1.95" fill="#4DBEEE"/>
<circle cx="225.3" cy="58.5" r="1.95" fill="#A2142F"/>
<circle cx="225.3" cy="62.6" r="1.95" fill="#0072BD"/>
<circle cx="225.3" cy="65.8" r="1.95" fill="#D95319"/>
<circle cx="230.2" cy="55.1" r="1.95" fill="#7E2F8E"/>
<circle cx="230.2" cy="58.5" r="1.95" fill="#4DBEEE"/>
<circle cx="230.2" cy="62.3" r="1.95" fill="#A2142F"/>
<circle cx="230.2" cy="65.5" r="1.95" fill="#0072BD"/>
<circle cx="230.2" cy="68.8" r="1.95" fill="#D95319"/>
<circle cx="235.2" cy="58.3" r="1.95" fill="#D95319"/>
<circle cx="235.2" cy="61.4" r="1.95" fill="#4DBEEE"/>
<circle cx="235.2" cy="64.8" r="1.95" fill="#A2142F"/>
<circle cx="235.2" cy="67.8" r="1.95" fill="#0072BD"/>
<circle cx="235.2" cy="71.2" r="1.95" fill="#D95319"/>
<circle cx="235.2" cy="73.9" r="1.95" fill="#EDB120"/>
<circle cx="240.2" cy="62.8" r="1.95" fill="#0072BD"/>
<circle cx="240.2" cy="66.4" r="1.95" fill="#4DBEEE"/>
<circle cx="240.2" cy="69.9" r="1.95" fill="#A2142F"/>
<circle cx="240.2" cy="73.9" r="1.95" fill="#D95319"/>
<circle cx="240.2" cy="76.9" r="1.95" fill="#D95319"/>
<circle cx="240.2" cy="80.4" r="1.95" fill="#EDB120"/>
<circle cx="245.1" cy="68.4" r="1.95" fill="#77AC30"/>
<circle cx="245.1" cy="72.3" r="1.95" fill="#4DBEEE"/>
<circle cx="245.1" cy="75.7" r="1.95" fill="#A2142F"/>
<circle cx="245.1" cy="79.0" r="1.95" fill="#4DBEEE"/>
<circle cx="245.1" cy="82.6" r="1.95" fill="#7E2F8E"/>
<circle cx="245.1" cy="85.8" r="1.95" fill="#D95319"/>
<circle cx="245.1" cy="88.9" r="1.95" fill="#7E2F8E"/>
<circle cx="250.1" cy="74.6" r="1.95" fill="#7E2F8E"/>
<circle cx="250.1" cy="77.7" r="1.95" fill="#4DBEEE"/>
<circle cx="250.1" cy="80.4" r="1.95" fill="#A2142F"/>
<circle cx="250.1" cy="83.5" r="1.95" fill="#0072BD"/>
<circle cx="250.1" cy="87.1" r="1.95" fill="#D95319"/>
<circle cx="250.1" cy="90.1" r="1.95" fill="#EDB120"/>
<circle cx="250.1" cy="93.6" r="1.95" fill="#7E2F8E"/>
<circle cx="250.1" cy="96.2" r="1.95" fill="#77AC30"/>
<circle cx="255.1" cy="80.7" r="1.95" fill="#0072BD"/>
<circle cx="255.1" cy="83.9" r="1.95" fill="#4DBEEE"/>
<circle cx="255.1" cy="87.7" r="1.95" fill="#A2142F"/>
<circle cx="255.1" cy="90.9" r="1.95" fill="#0072BD"/>
<circle cx="255.1" cy="94.2" r="1.95" fill="#D95319"/>
<circle cx="255.1" cy="97.6" r="1.95" fill="#EDB120"/>
<circle cx="255.1" cy="101.1" r="1.95" fill="#7E2F8E"/>
<circle cx="255.1" cy="104.6" r="1.95" fill="#4DBEEE"/>
<circle cx="260.0" cy="86.9" r="1.95" fill="#EDB120"/>
<circle cx="260.0" cy="90.1" r="1.95" fill="#D95319"/>
<circle cx="260.0" cy="92.8" r="1.95" fill="#A2142F"/>
<circle cx="260.0" cy="96.0" r="1.95" fill="#0072BD"/>
<circle cx="260.0" cy="99.3" r="1.95" fill="#D95319"/>
<circle cx="260.0" cy="103.1" r="1.95" fill="#EDB120"/>
<circle cx="260.0" cy="106.5" r="1.95" fill="#D95319"/>
<circle cx="260.0" cy="109.3" r="1.95" fill="#77AC30"/>
<circle cx="260.0" cy="112.4" r="1.95" fill="#4DBEEE"/>
<circle cx="265.0" cy="93.4" r="1.95" fill="#7E2F8E"/>
<circle cx="265.0" cy="97.2" r="1.95" fill="#7E2F8E"/>
<circle cx="265.0" cy="100.2" r="1.95" fill="#A2142F"/>
<circle cx="265.0" cy="103.4" r="1.95" fill="#0072BD"/>
<circle cx="265.0" cy="106.3" r="1.95" fill="#7E2F8E"/>
<circle cx="265.0" cy="109.5" r="1.95" fill="#EDB120"/>
<circle cx="265.0" cy="112.5" r="1.95" fill="#7E2F8E"/>
<circle cx="265.0" cy="116.0" r="1.95" fill="#77AC30"/>
<circle cx="265.0" cy="119.1" r="1.95" fill="#4DBEEE"/>
<circle cx="265.0" cy="122.5" r="1.95" fill="#A2142F"/>
<circle cx="270.0" cy="99.6" r="1.95" fill="#0072BD"/>
<circle cx="270.0" cy="103.7" r="1.95" fill="#D95319"/>
<circle cx="270.0" cy="106.5" r="1.95" fill="#A2142F"/>
<circle cx="270.0" cy="110.3" r="1.95" fill="#0072BD"/>
<circle cx="270.0" cy="113.1" r="1.95" fill="#D95319"/>
<circle cx="270.0" cy="117.1" r="1.95" fill="#EDB120"/>
<circle cx="270.0" cy="120.1" r="1.95" fill="#EDB120"/>
<circle cx="270.0" cy="123.6" r="1.95" fill="#77AC30"/>
<circle cx="270.0" cy="126.8" r="1.95" fill="#4DBEEE"/>
<circle cx="270.0" cy="130.5" r="1.95" fill="#A2142F"/>
<circle cx="274.9" cy="106.3" r="1.95" fill="#D95319"/>
<circle cx="274.9" cy="110.1" r="1.95" fill="#4DBEEE"/>
<circle cx="274.9" cy="113.2" r="1.95" fill="#A2142F"/>
<circle cx="274.9" cy="116.6" r="1.95" fill="#0072BD"/>
<circle cx="274.9" cy="119.9" r="1.95" fill="#D95319"/>
<circle cx="274.9" cy="122.8" r="1.95" fill="#EDB120"/>
<circle cx="274.9" cy="126.6" r="1.95" fill="#7E2F8E"/>
<circle cx="274.9" cy="129.2" r="1.95" fill="#77AC30"/>
<circle cx="274.9" cy="132.6" r="1.95" fill="#4DBEEE"/>
<circle cx="274.9" cy="135.9" r="1.95" fill="#A2142F"/>
<circle cx="274.9" cy="139.2" r="1.95" fill="#0072BD"/>
<circle cx="279.9" cy="112.7" r="1.95" fill="#EDB120"/>
<circle cx="279.9" cy="115.7" r="1.95" fill="#4DBEEE"/>
<circle cx="279.9" cy="119.4" r="1.95" fill="#A2142F"/>
<circle cx="279.9" cy="122.9" r="1.95" fill="#0072BD"/>
<circle cx="279.9" cy="125.6" r="1.95" fill="#0072BD"/>
<circle cx="279.9" cy="129.4" r="1.95" fill="#EDB120"/>
<circle cx="279.9" cy="132.6" r="1.95" fill="#7E2F8E"/>
<circle cx="279.9" cy="136.1" r="1.95" fill="#0072BD"/>
<circle cx="279.9" cy="139.5" r="1.95" fill="#4DBEEE"/>
<circle cx="279.9" cy="143.0" r="1.95" fill="#A2142F"/>
<circle cx="279.9" cy="146.2" r="1.95" fill="#EDB120"/>
<circle cx="284.8" cy="117.9" r="1.95" fill="#D95319"/>
<circle cx="284.8" cy="121.7" r="1.95" fill="#4DBEEE"/>
<circle cx="284.8" cy="125.3" r="1.95" fill="#A2142F"/>
<circle cx="284.8" cy="128.1" r="1.95" fill="#A2142F"/>
<circle cx="284.8" cy="132.0" r="1.95" fill="#D95319"/>
<circle cx="284.8" cy="135.0" r="1.95" fill="#EDB120"/>
<circle cx="284.8" cy="138.9" r="1.95" fill="#7E2F8E"/>
<circle cx="284.8" cy="142.5" r="1.95" fill="#4DBEEE"/>
<circle cx="284.8" cy="145.7" r="1.95" fill="#4DBEEE"/>
<circle cx="284.8" cy="148.7" r="1.95" fill="#A2142F"/>
<circle cx="289.8" cy="124.4" r="1.95" fill="#EDB120"/>
<circle cx="289.8" cy="128.0" r="1.95" fill="#4DBEEE"/>
<circle cx="289.8" cy="130.7" r="1.95" fill="#77AC30"/>
<circle cx="289.8" cy="134.4" r="1.95" fill="#0072BD"/>
<circle cx="289.8" cy="137.1" r="1.95" fill="#D95319"/>
<circle cx="289.8" cy="140.2" r="1.95" fill="#EDB120"/>
<circle cx="289.8" cy="143.9" r="1.95" fill="#7E2F8E"/>
<circle cx="289.8" cy="147.2" r="1.95" fill="#77AC30"/>
<circle cx="289.8" cy="150.5" r="1.95" fill="#4DBEEE"/>
<circle cx="289.8" cy="153.5" r="1.95" fill="#A2142F"/>
<circle cx="289.8" cy="156.5" r="1.95" fill="#0072BD"/>
<circle cx="294.8" cy="134.1" r="1.95" fill="#D95319"/>
<circle cx="294.8" cy="137.8" r="1.95" fill="#A2142F"/>
<circle cx="294.8" cy="140.9" r="1.95" fill="#A2142F"/>
<circle cx="294.8" cy="144.1" r="1.95" fill="#7E2F8E"/>
<circle cx="294.8" cy="147.0" r="1.95" fill="#D95319"/>
<circle cx="294.8" cy="150.2" r="1.95" fill="#EDB120"/>
<circle cx="294.8" cy="153.5" r="1.95" fill="#7E2F8E"/>
<circle cx="294.8" cy="156.4" r="1.95" fill="#77AC30"/>
<circle cx="294.8" cy="159.7" r="1.95" fill="#4DBEEE"/>
<circle cx="294.8" cy="163.0" r="1.95" fill="#A2142F"/>
<circle cx="299.7" cy="146.5" r="1.95" fill="#77AC30"/>
<circle cx="299.7" cy="150.2" r="1.95" fill="#0072BD"/>
<circle cx="299.7" cy="153.8" r="1.95" fill="#A2142F"/>
<circle cx="299.7" cy="157.1" r="1.95" fill="#0072BD"/>
<circle cx="299.7" cy="160.1" r="1.95" fill="#D95319"/>
<circle cx="299.7" cy="163.9" r="1.95" fill="#EDB120"/>
<circle cx="299.7" cy="167.8" r="1.95" fill="#7E2F8E"/>
<circle cx="304.7" cy="151.8" r="1.95" fill="#77AC30"/>
<circle cx="304.7" cy="155.4" r="1.95" fill="#4DBEEE"/>
<circle cx="304.7" cy="158.5" r="1.95" fill="#A2142F"/>
<circle cx="304.7" cy="161.6" r="1.95" fill="#0072BD"/>
<circle cx="304.7" cy="164.9" r="1.95" fill="#77AC30"/>
<circle cx="304.7" cy="168.7" r="1.95" fill="#EDB120"/>
<circle cx="309.7" cy="157.0" r="1.95" fill="#7E2F8E"/>
<circle cx="309.7" cy="160.8" r="1.95" fill="#4DBEEE"/>
<circle cx="309.7" cy="164.5" r="1.95" fill="#A2142F"/>
<circle cx="309.7" cy="168.9" r="1.95" fill="#0072BD"/>
<circle cx="314.6" cy="162.4" r="1.95" fill="#7E2F8E"/>
<circle cx="314.6" cy="165.9" r="1.95" fill="#4DBEEE"/>
<circle cx="314.6" cy="168.7" r="1.95" fill="#A2142F"/>
<circle cx="319.6" cy="166.5" r="1.95" fill="#D95319"/>
<circle cx="319.6" cy="169.4" r="1.95" fill="#4DBEEE"/>
<circle cx="324.6" cy="169.6" r="1.95" fill="#EDB120"/>
<circle cx="61.4" cy="189.2" r="1.95" fill="#0072BD"/>
<circle cx="66.4" cy="186.2" r="1.95" fill="#0072BD"/>
<circle cx="71.3" cy="182.1" r="1.95" fill="#0072BD"/>
<circle cx="76.3" cy="176.2" r="1.95" fill="#0072BD"/>
<circle cx="81.3" cy="165.4" r="1.95" fill="#0072BD"/>
<circle cx="86.2" cy="153.4" r="1.95" fill="#0072BD"/>
<circle cx="91.2" cy="146.3" r="1.95" fill="#0072BD"/>
<circle cx="96.2" cy="136.9" r="1.95" fill="#0072BD"/>
<circle cx="101.1" cy="126.7" r="1.95" fill="#0072BD"/>
<circle cx="106.1" cy="115.7" r="1.95" fill="#0072BD"/>
<circle cx="111.1" cy="103.4" r="1.95" fill="#0072BD"/>
<circle cx="116.0" cy="94.3" r="1.95" fill="#0072BD"/>
<circle cx="121.0" cy="80.4" r="1.95" fill="#0072BD"/>
<circle cx="125.9" cy="74.0" r="1.95" fill="#0072BD"/>
<circle cx="130.9" cy="68.1" r="1.95" fill="#0072BD"/>
<circle cx="135.9" cy="62.0" r="1.95" fill="#0072BD"/>
<circle cx="140.8" cy="56.4" r="1.95" fill="#0072BD"/>
<circle cx="145.8" cy="52.1" r="1.95" fill="#0072BD"/>
<circle cx="150.8" cy="47.4" r="1.95" fill="#0072BD"/>
<circle cx="155.7" cy="43.7" r="1.95" fill="#0072BD"/>
<circle cx="160.7" cy="41.5" r="1.95" fill="#0072BD"/>
<circle cx="165.7" cy="39.0" r="1.95" fill="#0072BD"/>
<circle cx="170.6" cy="37.4" r="1.95" fill="#0072BD"/>
<circle cx="175.6" cy="36.8" r="1.95" fill="#0072BD"/>
<circle cx="180.6" cy="35.8" r="1.95" fill="#0072BD"/>
<circle cx="185.5" cy="35.8" r="1.95" fill="#0072BD"/>
<circle cx="190.5" cy="37.0" r="1.95" fill="#0072BD"/>
<circle cx="195.5" cy="37.4" r="1.95" fill="#0072BD"/>
<circle cx="200.4" cy="38.7" r="1.95" fill="#0072BD"/>
<circle cx="66.4" cy="190.5" r="1.95" fill="#D95319"/>
<circle cx="71.3" cy="188.7" r="1.95" fill="#D95319"/>
<circle cx="76.3" cy="188.3" r="1.95" fill="#D95319"/>
<circle cx="81.3" cy="187.4" r="1.95" fill="#D95319"/>
<circle cx="86.2" cy="188.3" r="1.95" fill="#D95319"/>
<circle cx="91.2" cy="187.4" r="1.95" fill="#D95319"/>
<circle cx="96.2" cy="186.5" r="1.95" fill="#D95319"/>
<circle cx="125.9" cy="182.1" r="1.95" fill="#D95319"/>
<circle cx="121.0" cy="181.5" r="1.95" fill="#D95319"/>
<circle cx="116.0" cy="180.8" r="1.95" fill="#D95319"/>
<circle cx="111.1" cy="179.7" r="1.95" fill="#D95319"/>
<circle cx="106.1" cy="178.0" r="1.95" fill="#D95319"/>
<circle cx="101.1" cy="176.7" r="1.95" fill="#D95319"/>
<circle cx="91.2" cy="166.5" r="1.95" fill="#D95319"/>
<circle cx="96.2" cy="163.6" r="1.95" fill="#D95319"/>
<circle cx="101.1" cy="143.4" r="1.95" fill="#D95319"/>
<circle cx="106.1" cy="130.6" r="1.95" fill="#D95319"/>
<circle cx="111.1" cy="120.6" r="1.95" fill="#D95319"/>
<circle cx="116.0" cy="113.5" r="1.95" fill="#D95319"/>
<circle cx="121.0" cy="105.5" r="1.95" fill="#D95319"/>
<circle cx="125.9" cy="90.6" r="1.95" fill="#D95319"/>
<circle cx="130.9" cy="73.3" r="1.95" fill="#D95319"/>
<circle cx="135.9" cy="66.5" r="1.95" fill="#D95319"/>
<circle cx="140.8" cy="61.0" r="1.95" fill="#D95319"/>
<circle cx="145.8" cy="55.7" r="1.95" fill="#D95319"/>
<circle cx="150.8" cy="50.9" r="1.95" fill="#D95319"/>
<circle cx="155.7" cy="46.8" r="1.95" fill="#D95319"/>
<circle cx="160.7" cy="43.6" r="1.95" fill="#D95319"/>
<circle cx="165.7" cy="41.0" r="1.95" fill="#D95319"/>
<circle cx="170.6" cy="38.6" r="1.95" fill="#D95319"/>
<circle cx="175.6" cy="37.2" r="1.95" fill="#D95319"/>
<circle cx="180.6" cy="36.4" r="1.95" fill="#D95319"/>
<circle cx="185.5" cy="36.4" r="1.95" fill="#D95319"/>
<circle cx="190.5" cy="37.6" r="1.95" fill="#D95319"/>
<circle cx="195.5" cy="38.4" r="1.95" fill="#D95319"/>
<circle cx="200.4" cy="40.0" r="1.95" fill="#D95319"/>
<circle cx="165.7" cy="184.4" r="1.95" fill="#EDB120"/>
<circle cx="160.7" cy="183.0" r="1.95" fill="#EDB120"/>
<circle cx="155.7" cy="180.3" r="1.95" fill="#EDB120"/>
<circle cx="150.8" cy="177.6" r="1.95" fill="#EDB120"/>
<circle cx="145.8" cy="174.9" r="1.95" fill="#EDB120"/>
<circle cx="140.8" cy="173.1" r="1.95" fill="#EDB120"/>
<circle cx="135.9" cy="170.8" r="1.95" fill="#EDB120"/>
<circle cx="130.9" cy="169.0" r="1.95" fill="#EDB120"/>
<circle cx="125.9" cy="167.2" r="1.95" fill="#EDB120"/>
<circle cx="121.0" cy="163.5" r="1.95" fill="#EDB120"/>
<circle cx="116.0" cy="159.5" r="1.95" fill="#EDB120"/>
<circle cx="111.1" cy="151.2" r="1.95" fill="#EDB120"/>
<circle cx="116.0" cy="137.2" r="1.95" fill="#EDB120"/>
<circle cx="121.0" cy="126.7" r="1.95" fill="#EDB120"/>
<circle cx="125.9" cy="118.4" r="1.95" fill="#EDB120"/>
<circle cx="130.9" cy="110.9" r="1.95" fill="#EDB120"/>
<circle cx="135.9" cy="91.6" r="1.95" fill="#EDB120"/>
<circle cx="145.8" cy="87.2" r="1.95" fill="#EDB120"/>
<circle cx="140.8" cy="83.1" r="1.95" fill="#EDB120"/>
<circle cx="145.8" cy="63.3" r="1.95" fill="#EDB120"/>
<circle cx="150.8" cy="57.0" r="1.95" fill="#EDB120"/>
<circle cx="155.7" cy="52.7" r="1.95" fill="#EDB120"/>
<circle cx="160.7" cy="47.8" r="1.95" fill="#EDB120"/>
<circle cx="165.7" cy="44.0" r="1.95" fill="#EDB120"/>
<circle cx="170.6" cy="40.3" r="1.95" fill="#EDB120"/>
<circle cx="175.6" cy="37.8" r="1.95" fill="#EDB120"/>
<circle cx="180.6" cy="36.8" r="1.95" fill="#EDB120"/>
<circle cx="185.5" cy="36.6" r="1.95" fill="#EDB120"/>
<circle cx="190.5" cy="38.2" r="1.95" fill="#EDB120"/>
<circle cx="195.5" cy="39.0" r="1.95" fill="#EDB120"/>
<circle cx="200.4" cy="41.0" r="1.95" fill="#EDB120"/>
<circle cx="180.6" cy="185.6" r="1.95" fill="#7E2F8E"/>
<circle cx="175.6" cy="184.8" r="1.95" fill="#7E2F8E"/>
<circle cx="170.6" cy="178.5" r="1.95" fill="#7E2F8E"/>
<circle cx="165.7" cy="175.4" r="1.95" fill="#7E2F8E"/>
<circle cx="160.7" cy="172.6" r="1.95" fill="#7E2F8E"/>
<circle cx="155.7" cy="171.3" r="1.95" fill="#7E2F8E"/>
<circle cx="150.8" cy="168.3" r="1.95" fill="#7E2F8E"/>
<circle cx="145.8" cy="165.1" r="1.95" fill="#7E2F8E"/>
<circle cx="140.8" cy="161.1" r="1.95" fill="#7E2F8E"/>
<circle cx="135.9" cy="157.9" r="1.95" fill="#7E2F8E"/>
<circle cx="125.9" cy="144.5" r="1.95" fill="#7E2F8E"/>
<circle cx="130.9" cy="143.2" r="1.95" fill="#7E2F8E"/>
<circle cx="135.9" cy="126.1" r="1.95" fill="#7E2F8E"/>
<circle cx="140.8" cy="117.8" r="1.95" fill="#7E2F8E"/>
<circle cx="145.8" cy="110.0" r="1.95" fill="#7E2F8E"/>
<circle cx="150.8" cy="102.5" r="1.95" fill="#7E2F8E"/>
<circle cx="155.7" cy="95.8" r="1.95" fill="#7E2F8E"/>
<circle cx="160.7" cy="86.9" r="1.95" fill="#7E2F8E"/>
<circle cx="150.8" cy="72.2" r="1.95" fill="#7E2F8E"/>
<circle cx="155.7" cy="71.2" r="1.95" fill="#7E2F8E"/>
<circle cx="160.7" cy="56.6" r="1.95" fill="#7E2F8E"/>
<circle cx="165.7" cy="51.2" r="1.95" fill="#7E2F8E"/>
<circle cx="170.6" cy="46.8" r="1.95" fill="#7E2F8E"/>
<circle cx="175.6" cy="43.3" r="1.95" fill="#7E2F8E"/>
<circle cx="180.6" cy="40.3" r="1.95" fill="#7E2F8E"/>
<circle cx="185.5" cy="39.3" r="1.95" fill="#7E2F8E"/>
<circle cx="190.5" cy="37.6" r="1.95" fill="#7E2F8E"/>
<circle cx="195.5" cy="39.0" r="1.95" fill="#7E2F8E"/>
<circle cx="200.4" cy="41.5" r="1.95" fill="#7E2F8E"/>
<circle cx="185.5" cy="186.2" r="1.95" fill="#77AC30"/>
<circle cx="180.6" cy="180.3" r="1.95" fill="#77AC30"/>
<circle cx="175.6" cy="175.8" r="1.95" fill="#77AC30"/>
<circle cx="170.6" cy="174.0" r="1.95" fill="#77AC30"/>
<circle cx="165.7" cy="171.3" r="1.95" fill="#77AC30"/>
<circle cx="160.7" cy="167.7" r="1.95" fill="#77AC30"/>
<circle cx="155.7" cy="163.6" r="1.95" fill="#77AC30"/>
<circle cx="150.8" cy="160.0" r="1.95" fill="#77AC30"/>
<circle cx="145.8" cy="154.0" r="1.95" fill="#77AC30"/>
<circle cx="140.8" cy="140.9" r="1.95" fill="#77AC30"/>
<circle cx="145.8" cy="129.7" r="1.95" fill="#77AC30"/>
<circle cx="150.8" cy="120.9" r="1.95" fill="#77AC30"/>
<circle cx="155.7" cy="115.7" r="1.95" fill="#77AC30"/>
<circle cx="160.7" cy="107.9" r="1.95" fill="#77AC30"/>
<circle cx="165.7" cy="101.5" r="1.95" fill="#77AC30"/>
<circle cx="175.6" cy="91.0" r="1.95" fill="#77AC30"/>
<circle cx="170.6" cy="87.3" r="1.95" fill="#77AC30"/>
<circle cx="160.7" cy="66.3" r="1.95" fill="#77AC30"/>
<circle cx="165.7" cy="65.8" r="1.95" fill="#77AC30"/>
<circle cx="170.6" cy="54.0" r="1.95" fill="#77AC30"/>
<circle cx="175.6" cy="50.3" r="1.95" fill="#77AC30"/>
<circle cx="180.6" cy="46.2" r="1.95" fill="#77AC30"/>
<circle cx="185.5" cy="43.3" r="1.95" fill="#77AC30"/>
<circle cx="190.5" cy="40.5" r="1.95" fill="#77AC30"/>
<circle cx="195.5" cy="39.9" r="1.95" fill="#77AC30"/>
<circle cx="200.4" cy="40.8" r="1.95" fill="#77AC30"/>
<circle cx="190.5" cy="180.3" r="1.95" fill="#4DBEEE"/>
<circle cx="185.5" cy="176.7" r="1.95" fill="#4DBEEE"/>
<circle cx="180.6" cy="173.1" r="1.95" fill="#4DBEEE"/>
<circle cx="175.6" cy="169.5" r="1.95" fill="#4DBEEE"/>
<circle cx="170.6" cy="165.1" r="1.95" fill="#4DBEEE"/>
<circle cx="165.7" cy="159.3" r="1.95" fill="#4DBEEE"/>
<circle cx="155.7" cy="145.4" r="1.95" fill="#4DBEEE"/>
<circle cx="160.7" cy="143.2" r="1.95" fill="#4DBEEE"/>
<circle cx="165.7" cy="126.7" r="1.95" fill="#4DBEEE"/>
<circle cx="170.6" cy="117.8" r="1.95" fill="#4DBEEE"/>
<circle cx="175.6" cy="110.0" r="1.95" fill="#4DBEEE"/>
<circle cx="180.6" cy="104.6" r="1.95" fill="#4DBEEE"/>
<circle cx="185.5" cy="95.8" r="1.95" fill="#4DBEEE"/>
<circle cx="180.6" cy="78.0" r="1.95" fill="#4DBEEE"/>
<circle cx="175.6" cy="65.5" r="1.95" fill="#4DBEEE"/>
<circle cx="180.6" cy="58.7" r="1.95" fill="#4DBEEE"/>
<circle cx="185.5" cy="53.0" r="1.95" fill="#4DBEEE"/>
<circle cx="190.5" cy="47.8" r="1.95" fill="#4DBEEE"/>
<circle cx="195.5" cy="44.3" r="1.95" fill="#4DBEEE"/>
<circle cx="200.4" cy="44.3" r="1.95" fill="#4DBEEE"/>
<circle cx="205.4" cy="44.3" r="1.95" fill="#4DBEEE"/>
<circle cx="195.5" cy="178.5" r="1.95" fill="#A2142F"/>
<circle cx="190.5" cy="174.0" r="1.95" fill="#A2142F"/>
<circle cx="185.5" cy="167.7" r="1.95" fill="#A2142F"/>
<circle cx="180.6" cy="162.4" r="1.95" fill="#A2142F"/>
<circle cx="170.6" cy="144.5" r="1.95" fill="#A2142F"/>
<circle cx="175.6" cy="145.7" r="1.95" fill="#A2142F"/>
<circle cx="180.6" cy="128.2" r="1.95" fill="#A2142F"/>
<circle cx="185.5" cy="119.8" r="1.95" fill="#A2142F"/>
<circle cx="190.5" cy="115.2" r="1.95" fill="#A2142F"/>
<circle cx="195.5" cy="112.6" r="1.95" fill="#A2142F"/>
<circle cx="200.4" cy="106.0" r="1.95" fill="#A2142F"/>
<circle cx="205.4" cy="106.2" r="1.95" fill="#A2142F"/>
<circle cx="195.5" cy="89.3" r="1.95" fill="#A2142F"/>
<circle cx="190.5" cy="73.4" r="1.95" fill="#A2142F"/>
<circle cx="195.5" cy="58.4" r="1.95" fill="#A2142F"/>
<circle cx="200.4" cy="52.5" r="1.95" fill="#A2142F"/>
<circle cx="205.4" cy="49.9" r="1.95" fill="#A2142F"/>
<circle cx="210.4" cy="48.5" r="1.95" fill="#A2142F"/>
<circle cx="200.4" cy="181.2" r="1.95" fill="#0072BD"/>
<circle cx="195.5" cy="172.2" r="1.95" fill="#0072BD"/>
<circle cx="190.5" cy="163.6" r="1.95" fill="#0072BD"/>
<circle cx="185.5" cy="147.6" r="1.95" fill="#0072BD"/>
<circle cx="190.5" cy="135.5" r="1.95" fill="#0072BD"/>
<circle cx="195.5" cy="129.3" r="1.95" fill="#0072BD"/>
<circle cx="200.4" cy="124.0" r="1.95" fill="#0072BD"/>
<circle cx="205.4" cy="121.3" r="1.95" fill="#0072BD"/>
<circle cx="210.4" cy="119.8" r="1.95" fill="#0072BD"/>
<circle cx="215.3" cy="118.0" r="1.95" fill="#0072BD"/>
<circle cx="210.4" cy="101.8" r="1.95" fill="#0072BD"/>
<circle cx="205.4" cy="92.8" r="1.95" fill="#0072BD"/>
<circle cx="200.4" cy="75.1" r="1.95" fill="#0072BD"/>
<circle cx="205.4" cy="63.0" r="1.95" fill="#0072BD"/>
<circle cx="210.4" cy="55.9" r="1.95" fill="#0072BD"/>
<circle cx="215.3" cy="52.0" r="1.95" fill="#0072BD"/>
<circle cx="205.4" cy="188.0" r="1.95" fill="#D95319"/>
<circle cx="205.4" cy="177.6" r="1.95" fill="#D95319"/>
<circle cx="200.4" cy="156.5" r="1.95" fill="#D95319"/>
<circle cx="205.4" cy="141.9" r="1.95" fill="#D95319"/>
<circle cx="210.4" cy="138.4" r="1.95" fill="#D95319"/>
<circle cx="215.3" cy="136.3" r="1.95" fill="#D95319"/>
<circle cx="220.3" cy="135.7" r="1.95" fill="#D95319"/>
<circle cx="225.3" cy="135.7" r="1.95" fill="#D95319"/>
<circle cx="230.2" cy="131.5" r="1.95" fill="#D95319"/>
<circle cx="225.3" cy="119.0" r="1.95" fill="#D95319"/>
<circle cx="220.3" cy="106.4" r="1.95" fill="#D95319"/>
<circle cx="215.3" cy="82.4" r="1.95" fill="#D95319"/>
<circle cx="210.4" cy="83.0" r="1.95" fill="#D95319"/>
<circle cx="215.3" cy="70.0" r="1.95" fill="#D95319"/>
<circle cx="220.3" cy="62.0" r="1.95" fill="#D95319"/>
<circle cx="210.4" cy="189.2" r="1.95" fill="#EDB120"/>
<circle cx="210.4" cy="164.7" r="1.95" fill="#EDB120"/>
<circle cx="215.3" cy="153.4" r="1.95" fill="#EDB120"/>
<circle cx="220.3" cy="148.0" r="1.95" fill="#EDB120"/>
<circle cx="225.3" cy="147.5" r="1.95" fill="#EDB120"/>
<circle cx="230.2" cy="145.7" r="1.95" fill="#EDB120"/>
<circle cx="235.2" cy="145.7" r="1.95" fill="#EDB120"/>
<circle cx="240.2" cy="140.0" r="1.95" fill="#EDB120"/>
<circle cx="245.1" cy="128.0" r="1.95" fill="#EDB120"/>
<circle cx="240.2" cy="120.0" r="1.95" fill="#EDB120"/>
<circle cx="235.2" cy="114.8" r="1.95" fill="#EDB120"/>
<circle cx="230.2" cy="102.2" r="1.95" fill="#EDB120"/>
<circle cx="225.3" cy="80.9" r="1.95" fill="#EDB120"/>
<circle cx="230.2" cy="72.0" r="1.95" fill="#EDB120"/>
<circle cx="235.2" cy="66.0" r="1.95" fill="#EDB120"/>
<circle cx="215.3" cy="185.8" r="1.95" fill="#7E2F8E"/>
<circle cx="215.3" cy="176.4" r="1.95" fill="#7E2F8E"/>
<circle cx="220.3" cy="166.4" r="1.95" fill="#7E2F8E"/>
<circle cx="225.3" cy="155.9" r="1.95" fill="#7E2F8E"/>
<circle cx="230.2" cy="153.0" r="1.95" fill="#7E2F8E"/>
<circle cx="235.2" cy="151.8" r="1.95" fill="#7E2F8E"/>
<circle cx="240.2" cy="151.3" r="1.95" fill="#7E2F8E"/>
<circle cx="245.1" cy="145.0" r="1.95" fill="#7E2F8E"/>
<circle cx="250.1" cy="137.0" r="1.95" fill="#7E2F8E"/>
<circle cx="245.1" cy="129.4" r="1.95" fill="#7E2F8E"/>
<circle cx="240.2" cy="122.5" r="1.95" fill="#7E2F8E"/>
<circle cx="245.1" cy="110.0" r="1.95" fill="#7E2F8E"/>
<circle cx="250.1" cy="95.0" r="1.95" fill="#7E2F8E"/>
<circle cx="255.1" cy="88.0" r="1.95" fill="#7E2F8E"/>
<circle cx="220.3" cy="186.9" r="1.95" fill="#77AC30"/>
<circle cx="225.3" cy="176.7" r="1.95" fill="#77AC30"/>
<circle cx="230.2" cy="165.1" r="1.95" fill="#77AC30"/>
<circle cx="235.2" cy="160.0" r="1.95" fill="#77AC30"/>
<circle cx="240.2" cy="158.8" r="1.95" fill="#77AC30"/>
<circle cx="245.1" cy="157.0" r="1.95" fill="#77AC30"/>
<circle cx="250.1" cy="156.1" r="1.95" fill="#77AC30"/>
<circle cx="255.1" cy="155.5" r="1.95" fill="#77AC30"/>
<circle cx="260.0" cy="153.0" r="1.95" fill="#77AC30"/>
<circle cx="265.0" cy="145.4" r="1.95" fill="#77AC30"/>
<circle cx="260.0" cy="131.1" r="1.95" fill="#77AC30"/>
<circle cx="265.0" cy="118.0" r="1.95" fill="#77AC30"/>
<circle cx="270.0" cy="112.0" r="1.95" fill="#77AC30"/>
<circle cx="230.2" cy="183.9" r="1.95" fill="#4DBEEE"/>
<circle cx="235.2" cy="172.2" r="1.95" fill="#4DBEEE"/>
<circle cx="240.2" cy="167.7" r="1.95" fill="#4DBEEE"/>
<circle cx="245.1" cy="167.2" r="1.95" fill="#4DBEEE"/>
<circle cx="250.1" cy="166.5" r="1.95" fill="#4DBEEE"/>
<circle cx="255.1" cy="161.2" r="1.95" fill="#4DBEEE"/>
<circle cx="260.0" cy="161.0" r="1.95" fill="#4DBEEE"/>
<circle cx="265.0" cy="160.8" r="1.95" fill="#4DBEEE"/>
<circle cx="270.0" cy="159.0" r="1.95" fill="#4DBEEE"/>
<circle cx="274.9" cy="150.0" r="1.95" fill="#4DBEEE"/>
<circle cx="279.9" cy="140.0" r="1.95" fill="#4DBEEE"/>
<circle cx="235.2" cy="180.3" r="1.95" fill="#A2142F"/>
<circle cx="240.2" cy="174.9" r="1.95" fill="#A2142F"/>
<circle cx="245.1" cy="173.1" r="1.95" fill="#A2142F"/>
<circle cx="250.1" cy="172.2" r="1.95" fill="#A2142F"/>
<circle cx="255.1" cy="164.5" r="1.95" fill="#A2142F"/>
<circle cx="260.0" cy="164.5" r="1.95" fill="#A2142F"/>
<circle cx="265.0" cy="164.5" r="1.95" fill="#A2142F"/>
<circle cx="270.0" cy="163.5" r="1.95" fill="#A2142F"/>
<circle cx="274.9" cy="160.0" r="1.95" fill="#A2142F"/>
<circle cx="279.9" cy="152.0" r="1.95" fill="#A2142F"/>
<circle cx="284.8" cy="144.0" r="1.95" fill="#A2142F"/>
<circle cx="240.2" cy="183.0" r="1.95" fill="#0072BD"/>
<circle cx="245.1" cy="178.5" r="1.95" fill="#0072BD"/>
<circle cx="250.1" cy="168.1" r="1.95" fill="#0072BD"/>
<circle cx="255.1" cy="168.1" r="1.95" fill="#0072BD"/>
<circle cx="260.0" cy="168.1" r="1.95" fill="#0072BD"/>
<circle cx="265.0" cy="168.1" r="1.95" fill="#0072BD"/>
<circle cx="270.0" cy="167.0" r="1.95" fill="#0072BD"/>
<circle cx="274.9" cy="165.0" r="1.95" fill="#0072BD"/>
<circle cx="279.9" cy="160.0" r="1.95" fill="#0072BD"/>
<circle cx="284.8" cy="153.0" r="1.95" fill="#0072BD"/>
<circle cx="289.8" cy="147.0" r="1.95" fill="#0072BD"/>
<circle cx="245.1" cy="186.0" r="1.95" fill="#D95319"/>
<circle cx="250.1" cy="180.0" r="1.95" fill="#D95319"/>
<circle cx="255.1" cy="171.5" r="1.95" fill="#D95319"/>
<circle cx="260.0" cy="171.5" r="1.95" fill="#D95319"/>
<circle cx="265.0" cy="171.0" r="1.95" fill="#D95319"/>
<circle cx="270.0" cy="170.5" r="1.95" fill="#D95319"/>
<circle cx="274.9" cy="169.0" r="1.95" fill="#D95319"/>
<circle cx="279.9" cy="165.0" r="1.95" fill="#D95319"/>
<circle cx="284.8" cy="160.0" r="1.95" fill="#D95319"/>
<circle cx="289.8" cy="153.0" r="1.95" fill="#D95319"/>
<circle cx="294.8" cy="150.0" r="1.95" fill="#D95319"/>
</g>
<line x1="96.15" y1="12.6" x2="96.15" y2="197.9" stroke="#4fb9d6" stroke-width="1.5" stroke-opacity="0.88"/>
<line x1="145.80" y1="12.6" x2="145.80" y2="197.9" stroke="#4fb9d6" stroke-width="1.5" stroke-opacity="0.88"/>
<line x1="195.45" y1="12.6" x2="195.45" y2="197.9" stroke="#4fb9d6" stroke-width="1.5" stroke-opacity="0.88"/>
<line x1="245.10" y1="12.6" x2="245.10" y2="197.9" stroke="#4fb9d6" stroke-width="1.5" stroke-opacity="0.88"/>
<line x1="294.75" y1="12.6" x2="294.75" y2="197.9" stroke="#4fb9d6" stroke-width="1.5" stroke-opacity="0.88"/>
<line x1="344.40" y1="12.6" x2="344.40" y2="197.9" stroke="#4fb9d6" stroke-width="1.5" stroke-opacity="0.88"/>
<g font-family="Liberation Serif, serif" font-size="11.5" fill="#383838"><text x="43.8" y="17.7" text-anchor="end" textLength="24" lengthAdjust="spacingAndGlyphs">0. 07</text><text x="43.8" y="44.0" text-anchor="end" textLength="24" lengthAdjust="spacingAndGlyphs">0. 06</text><text x="43.8" y="70.6" text-anchor="end" textLength="24" lengthAdjust="spacingAndGlyphs">0. 05</text><text x="43.8" y="97.4" text-anchor="end" textLength="24" lengthAdjust="spacingAndGlyphs">0. 04</text><text x="43.8" y="124.0" text-anchor="end" textLength="24" lengthAdjust="spacingAndGlyphs">0. 03</text><text x="43.8" y="150.7" text-anchor="end" textLength="24" lengthAdjust="spacingAndGlyphs">0. 02</text><text x="43.8" y="177.6" text-anchor="end" textLength="24" lengthAdjust="spacingAndGlyphs">0. 01</text><text x="42.6" y="200.3" text-anchor="end">0</text><text x="46.2" y="210.3" text-anchor="middle">0</text><text x="95.3" y="210.5" textLength="24.4" lengthAdjust="spacingAndGlyphs">0. 05</text><text x="159.7" y="210.5" textLength="24.4" lengthAdjust="spacingAndGlyphs">0. 10</text><text x="219.7" y="210.5" textLength="24.4" lengthAdjust="spacingAndGlyphs">0. 15</text><text x="282.4" y="210.5" textLength="24.4" lengthAdjust="spacingAndGlyphs">0. 20</text><text x="344.6" y="210.5" textLength="24.4" lengthAdjust="spacingAndGlyphs">0. 25</text><text x="406.1" y="210.5" textLength="24.4" lengthAdjust="spacingAndGlyphs">0. 30</text><text x="466.9" y="210.5" textLength="24.4" lengthAdjust="spacingAndGlyphs">0. 35</text><text x="526.8" y="210.5" textLength="24.4" lengthAdjust="spacingAndGlyphs">0. 40</text></g>
<text x="273.6" y="220.0" font-family="Liberation Mono, monospace" font-size="11.2" fill="#383838" textLength="46.5" lengthAdjust="spacingAndGlyphs">time (s)</text>
<g font-family="Liberation Serif, serif" font-size="10" fill="#383838"><text transform="translate(15.6,120.4) rotate(-90)" textLength="5.2" lengthAdjust="spacingAndGlyphs">η</text><text transform="translate(15.6,107.9) rotate(-90)" textLength="13.6" lengthAdjust="spacingAndGlyphs">(m)</text></g>
<text x="451.6" y="31.7" font-family="Liberation Mono, monospace" font-size="11.6" fill="#383838" textLength="80" lengthAdjust="spacingAndGlyphs">CE3 - Event 1</text>
<g font-family="Liberation Serif, serif" font-weight="bold" font-size="13" fill="#5252ff"><text x="88.0" y="26.8" textLength="5.9" lengthAdjust="spacingAndGlyphs">A</text><text x="138.1" y="26.8" textLength="5.9" lengthAdjust="spacingAndGlyphs">B</text><text x="186.8" y="26.8" textLength="5.9" lengthAdjust="spacingAndGlyphs">C</text><text x="236.9" y="26.8" textLength="5.9" lengthAdjust="spacingAndGlyphs">D</text><text x="287.1" y="26.8" textLength="5.9" lengthAdjust="spacingAndGlyphs">E</text><text x="336.1" y="26.8" textLength="5.9" lengthAdjust="spacingAndGlyphs">F</text></g>
<g font-family="Liberation Serif, serif" font-size="12" fill="#2e2e2e"><text x="77.4" y="138.5" textLength="11.5" lengthAdjust="spacingAndGlyphs">d2</text><text x="214.7" y="31.8" textLength="18.2" lengthAdjust="spacingAndGlyphs">d10</text><text x="253.2" y="64.6" textLength="17.8" lengthAdjust="spacingAndGlyphs">d20</text><text x="300.9" y="132.9" textLength="18.1" lengthAdjust="spacingAndGlyphs">d30</text><text x="323.0" y="151.9" textLength="17.7" lengthAdjust="spacingAndGlyphs">d40</text><text x="362.2" y="157.3" textLength="18.0" lengthAdjust="spacingAndGlyphs">d50</text><text x="382.9" y="160.6" textLength="18.5" lengthAdjust="spacingAndGlyphs">d60</text><text x="403.7" y="159.7" textLength="18.3" lengthAdjust="spacingAndGlyphs">d70</text><text x="422.9" y="161.1" textLength="17.4" lengthAdjust="spacingAndGlyphs">d80</text><text x="438.5" y="169.6" textLength="17.5" lengthAdjust="spacingAndGlyphs">d90</text></g>
<g stroke="#f01010" stroke-width="1.1"><line x1="82.3" y1="141.3" x2="86.1" y2="153.5"/><line x1="214.3" y1="32.9" x2="202.2" y2="39.5"/><line x1="252.9" y1="65.7" x2="240.9" y2="73.3"/><line x1="297.6" y1="134.2" x2="280.6" y2="148.5"/><line x1="331.3" y1="153.4" x2="314.2" y2="177"/><line x1="369.9" y1="158.2" x2="355.3" y2="179"/><line x1="391.1" y1="162.4" x2="375" y2="183"/><line x1="406.7" y1="160.6" x2="381.6" y2="183"/><line x1="422.9" y1="160.6" x2="389.7" y2="183"/><line x1="434.5" y1="169.6" x2="423.8" y2="183"/></g>
<defs><linearGradient id="gw" gradientUnits="userSpaceOnUse" x1="0" y1="225" x2="0" y2="305"><stop offset="0" stop-color="#bebebe"/><stop offset="0.45" stop-color="#b0b0b0"/><stop offset="1" stop-color="#a3a3a3"/></linearGradient></defs>
<polygon points="27.8,269.5 31.4,266.0 35.5,262.5 39.4,259.7 42.0,256.0 43.9,252.1 45.2,245.8 47.5,244.5 52.8,243.6 56.9,242.3 58.2,239.6 60.0,238.7 61.8,241.4 62.7,245.0 62.7,255.5 62.4,255.8 62.4,305.8 27.8,305.8" fill="url(#gw)"/>
<polyline points="27.8,270.2 31.4,266.7 35.5,263.2 39.4,260.4 42.0,256.7 43.9,252.8 45.2,246.5 47.5,245.2 52.8,244.3 56.9,243.0 58.2,240.3 60.0,239.4 61.8,242.1 62.7,245.7 62.7,256.2" fill="none" stroke="#555" stroke-width="1.5" stroke-linejoin="round"/>
<polyline points="42.0,257.3 43.9,253.4 45.2,247.1 47.5,245.8 52.8,244.9 56.9,243.6 58.2,240.9 60.0,240.0" fill="none" stroke="#3e3e3e" stroke-width="2.6" stroke-linejoin="round" stroke-linecap="round" stroke-opacity="0.85"/>
<ellipse cx="59.6" cy="240.2" rx="2.0" ry="1.8" fill="#3a3a3a" fill-opacity="0.85"/>
<rect x="62.4" y="255.8" width="49.8" height="50.0" fill="#050505"/>
<polygon points="114.2,271.0 118.0,266.5 122.1,262.0 126.3,257.8 129.9,251.8 131.7,244.7 133.5,239.9 137.0,238.1 140.6,236.3 143.6,233.9 145.4,230.4 147.2,228.0 149.0,228.0 151.4,231.5 152.0,236.3 152.6,243.5 151.4,251.8 149.0,255.4 149.0,255.8 148.4,255.8 148.4,305.8 114.2,305.8" fill="url(#gw)"/>
<polyline points="114.2,271.7 118.0,267.2 122.1,262.7 126.3,258.5 129.9,252.5 131.7,245.4 133.5,240.6 137.0,238.8 140.6,237.0 143.6,234.6 145.4,231.1 147.2,228.7 149.0,228.7 151.4,232.2 152.0,237.0 152.6,244.2 151.4,252.5 149.0,256.1" fill="none" stroke="#555" stroke-width="1.5" stroke-linejoin="round"/>
<polyline points="129.9,253.2 131.7,246.1 133.5,241.3 137.0,239.5 140.6,237.7 143.6,235.3 145.4,231.8 147.2,229.4 149.0,229.4" fill="none" stroke="#3e3e3e" stroke-width="2.8" stroke-linejoin="round" stroke-linecap="round" stroke-opacity="0.85"/>
<ellipse cx="148.0" cy="229.8" rx="2.4" ry="2.0" fill="#3a3a3a" fill-opacity="0.85"/>
<rect x="148.4" y="255.8" width="49.5" height="50.0" fill="#050505"/>
<polygon points="200.4,271.7 205.0,265.5 209.9,260.0 214.7,254.6 217.1,247.4 218.9,241.5 221.9,239.1 226.6,236.7 231.4,233.7 233.8,229.5 236.2,226.6 239.2,226.6 241.0,230.1 240.4,234.3 242.2,240.3 242.7,247.4 241.0,252.2 237.4,254.6 237.4,255.8 234.4,255.8 234.4,305.8 200.4,305.8" fill="url(#gw)"/>
<polyline points="200.4,272.4 205.0,266.2 209.9,260.7 214.7,255.3 217.1,248.1 218.9,242.2 221.9,239.8 226.6,237.4 231.4,234.4 233.8,230.2 236.2,227.3 239.2,227.3 241.0,230.8 240.4,235.0 242.2,241.0 242.7,248.1 241.0,252.9 237.4,255.3" fill="none" stroke="#555" stroke-width="1.5" stroke-linejoin="round"/>
<polyline points="214.7,256.4 217.1,249.2 218.9,243.3 221.9,240.9 226.6,238.5 231.4,235.5 233.8,231.3 236.2,228.4 239.2,228.4" fill="none" stroke="#3e3e3e" stroke-width="3.6" stroke-linejoin="round" stroke-linecap="round" stroke-opacity="0.85"/>
<ellipse cx="237.6" cy="228.6" rx="2.6" ry="2.2" fill="#3a3a3a" fill-opacity="0.85"/>
<rect x="234.4" y="255.8" width="49.5" height="50.0" fill="#050505"/>
<polygon points="286.4,270.2 290.0,268.0 294.8,265.0 299.3,259.4 303.1,253.6 307.5,247.9 311.4,243.5 315.8,240.9 320.9,239.0 322.8,235.8 324.7,232.6 327.9,231.6 331.1,233.3 332.0,237.1 331.8,241.0 333.2,246.0 335.5,251.7 338.7,253.6 343.2,254.3 344.5,255.5 344.5,255.8 320.4,255.8 320.4,305.8 286.4,305.8" fill="url(#gw)"/>
<polyline points="286.4,270.9 290.0,268.7 294.8,265.7 299.3,260.1 303.1,254.3 307.5,248.6 311.4,244.2 315.8,241.6 320.9,239.7 322.8,236.5 324.7,233.3 327.9,232.3 331.1,234.0 332.0,237.8 331.8,241.7 333.2,246.7 335.5,252.4 338.7,254.3 343.2,255.0 344.5,256.2" fill="none" stroke="#555" stroke-width="1.5" stroke-linejoin="round"/>
<polyline points="294.8,266.9 299.3,261.3 303.1,255.5 307.5,249.8 311.4,245.4 315.8,242.8 320.9,240.9 322.8,237.7 324.7,234.5 327.9,233.5" fill="none" stroke="#3e3e3e" stroke-width="3.8" stroke-linejoin="round" stroke-linecap="round" stroke-opacity="0.85"/>
<polyline points="331.1,234.9 332.0,238.7 331.8,242.6 333.2,247.6 335.5,253.3 338.7,255.2 343.2,255.9" fill="none" stroke="#3e3e3e" stroke-width="3.2" stroke-linejoin="round" stroke-linecap="round" stroke-opacity="0.85"/>
<ellipse cx="327.6" cy="233.6" rx="2.8" ry="2.5" fill="#3a3a3a" fill-opacity="0.85"/>
<rect x="320.4" y="255.8" width="49.5" height="50.0" fill="#050505"/>
<polygon points="372.4,273.0 373.3,271.8 378.2,267.7 384.7,262.0 391.3,256.3 396.2,252.2 402.7,249.7 409.3,248.1 414.2,246.1 417.5,245.1 420.7,246.5 424.0,251.4 432.2,253.0 440.4,254.3 448.6,254.6 455.9,256.0 455.9,255.8 406.4,255.8 406.4,305.8 372.4,305.8" fill="url(#gw)"/>
<polyline points="372.4,273.7 373.3,272.5 378.2,268.4 384.7,262.7 391.3,257.0 396.2,252.9 402.7,250.4 409.3,248.8 414.2,246.8 417.5,245.8 420.7,247.2 424.0,252.1 432.2,253.7 440.4,255.0 448.6,255.3 455.9,256.7" fill="none" stroke="#555" stroke-width="1.5" stroke-linejoin="round"/>
<polyline points="378.2,268.9 384.7,263.2 391.3,257.5 396.2,253.4 402.7,250.9 409.3,249.3 414.2,247.3 417.5,246.3 420.7,247.7" fill="none" stroke="#3e3e3e" stroke-width="2.4" stroke-linejoin="round" stroke-linecap="round" stroke-opacity="0.85"/>
<ellipse cx="417.5" cy="246.8" rx="2.6" ry="1.6" fill="#3a3a3a" fill-opacity="0.85"/>
<rect x="406.4" y="255.8" width="49.5" height="50.0" fill="#050505"/>
<polygon points="458.4,278.5 465.8,275.2 474.0,271.9 480.5,269.5 484.6,267.0 486.3,261.3 487.1,256.4 490.4,253.9 495.3,252.3 505.1,251.5 514.9,252.3 524.7,253.1 534.6,253.9 542.4,254.7 542.8,255.5 542.8,255.8 492.4,255.8 492.4,305.8 458.4,305.8" fill="url(#gw)"/>
<polyline points="458.4,279.2 465.8,275.9 474.0,272.6 480.5,270.2 484.6,267.7 486.3,262.0 487.1,257.1 490.4,254.6 495.3,253.0 505.1,252.2 514.9,253.0 524.7,253.8 534.6,254.6 542.4,255.4 542.8,256.2" fill="none" stroke="#555" stroke-width="1.5" stroke-linejoin="round"/>
<polyline points="480.5,270.6 484.6,268.1 486.3,262.4 487.1,257.5 490.4,255.0 495.3,253.4" fill="none" stroke="#3e3e3e" stroke-width="2.2" stroke-linejoin="round" stroke-linecap="round" stroke-opacity="0.85"/>
<ellipse cx="489.5" cy="256.5" rx="2.4" ry="2.4" fill="#3a3a3a" fill-opacity="0.85"/>
<rect x="492.4" y="255.8" width="50.4" height="50.0" fill="#050505"/>
<g font-family="Liberation Serif, serif" font-size="13.2" fill="#e2e2e2"><text x="54.3" y="275.8" textLength="55" lengthAdjust="spacing">structure</text><text x="141.8" y="275.6" textLength="55" lengthAdjust="spacing">structure</text><text x="228.4" y="276.0" textLength="55" lengthAdjust="spacing">structure</text><text x="311.7" y="274.8" textLength="55" lengthAdjust="spacing">structure</text><text x="399.2" y="275.3" textLength="55" lengthAdjust="spacing">structure</text><text x="485.5" y="275.5" textLength="55" lengthAdjust="spacing">structure</text></g>
<g font-family="Liberation Serif, serif" font-size="12.6" fill="#2a2a2a"><text x="30.2" y="302.0" textLength="30.6" lengthAdjust="spacingAndGlyphs">0. 04s</text><text x="116.3" y="302.0" textLength="30.6" lengthAdjust="spacingAndGlyphs">0. 08s</text><text x="201.2" y="302.0" textLength="30.6" lengthAdjust="spacingAndGlyphs">0. 12s</text><text x="287.1" y="302.0" textLength="30.6" lengthAdjust="spacingAndGlyphs">0. 16s</text><text x="373.7" y="302.0" textLength="30.6" lengthAdjust="spacingAndGlyphs">0. 20s</text><text x="460.0" y="302.0" textLength="30.6" lengthAdjust="spacingAndGlyphs">0. 24s</text></g>
<g font-family="Liberation Serif, serif" font-weight="bold" font-size="13.6" fill="#5252ff"><text x="102.6" y="234.3" textLength="6.2" lengthAdjust="spacingAndGlyphs">A</text><text x="189.4" y="234.3" textLength="6.2" lengthAdjust="spacingAndGlyphs">B</text><text x="274.8" y="234.3" textLength="6.2" lengthAdjust="spacingAndGlyphs">C</text><text x="361.9" y="234.3" textLength="6.2" lengthAdjust="spacingAndGlyphs">D</text><text x="448.7" y="234.3" textLength="6.2" lengthAdjust="spacingAndGlyphs">E</text><text x="534.0" y="234.3" textLength="6.2" lengthAdjust="spacingAndGlyphs">F</text></g>
<g font-family="Liberation Serif, serif" font-size="21" fill="#141414"><text x="267.6" y="327.0">(</text><text x="273.9" y="326.6" font-weight="bold" font-size="21.5">e</text><text x="283.6" y="327.0">)</text></g>
</svg>
</body></html>
